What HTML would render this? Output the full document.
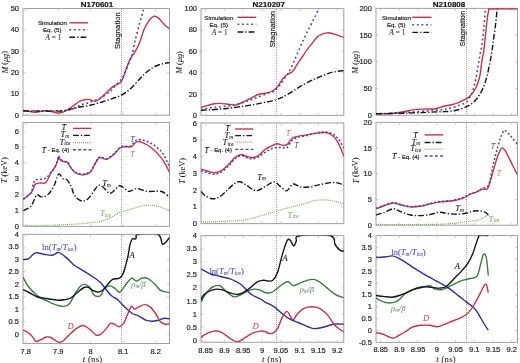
<!DOCTYPE html>
<html><head><meta charset="utf-8"><style>
html,body{margin:0;padding:0;background:#fff;}
svg{display:block;filter:blur(0.3px);}
</style></head><body>
<svg width="520" height="363" viewBox="0 0 520 363">
<rect width="520" height="363" fill="#fff"/>
<clipPath id="c0top"><rect x="23.00" y="8.50" width="146.50" height="106.70"/></clipPath>
<rect x="23.00" y="8.50" width="146.50" height="106.70" fill="none" stroke="#a0a0a0" stroke-width="1.0"/>
<line x1="121.50" y1="9.00" x2="121.50" y2="115.20" stroke="#888888" stroke-width="0.8" stroke-dasharray="1 1"/>
<clipPath id="c0mid"><rect x="23.00" y="122.50" width="146.50" height="103.90"/></clipPath>
<rect x="23.00" y="122.50" width="146.50" height="103.90" fill="none" stroke="#a0a0a0" stroke-width="1.0"/>
<line x1="121.50" y1="123.00" x2="121.50" y2="226.40" stroke="#888888" stroke-width="0.8" stroke-dasharray="1 1"/>
<clipPath id="c0bot"><rect x="23.00" y="234.40" width="146.50" height="109.10"/></clipPath>
<rect x="23.00" y="234.40" width="146.50" height="109.10" fill="none" stroke="#a0a0a0" stroke-width="1.0"/>
<line x1="121.50" y1="235.00" x2="121.50" y2="343.50" stroke="#888888" stroke-width="0.8" stroke-dasharray="1 1"/>
<text x="97.00" y="4.30" font-size="8.00" text-anchor="middle" fill="#111" stroke="#111" stroke-width="0.18" font-family='"Liberation Sans", Arial, sans-serif' font-weight="bold" font-style="normal" dominant-baseline="central">N170601</text>
<clipPath id="c1top"><rect x="201.00" y="8.60" width="142.80" height="106.80"/></clipPath>
<rect x="201.00" y="8.60" width="142.80" height="106.80" fill="none" stroke="#a0a0a0" stroke-width="1.0"/>
<line x1="276.50" y1="9.00" x2="276.50" y2="115.40" stroke="#888888" stroke-width="0.8" stroke-dasharray="1 1"/>
<clipPath id="c1mid"><rect x="201.00" y="123.00" width="142.80" height="100.60"/></clipPath>
<rect x="201.00" y="123.00" width="142.80" height="100.60" fill="none" stroke="#a0a0a0" stroke-width="1.0"/>
<line x1="276.50" y1="123.00" x2="276.50" y2="223.60" stroke="#888888" stroke-width="0.8" stroke-dasharray="1 1"/>
<clipPath id="c1bot"><rect x="201.00" y="235.60" width="142.80" height="106.70"/></clipPath>
<rect x="201.00" y="235.60" width="142.80" height="106.70" fill="none" stroke="#a0a0a0" stroke-width="1.0"/>
<line x1="276.50" y1="236.00" x2="276.50" y2="342.30" stroke="#888888" stroke-width="0.8" stroke-dasharray="1 1"/>
<text x="268.80" y="4.30" font-size="8.00" text-anchor="middle" fill="#111" stroke="#111" stroke-width="0.18" font-family='"Liberation Sans", Arial, sans-serif' font-weight="bold" font-style="normal" dominant-baseline="central">N210207</text>
<clipPath id="c2top"><rect x="376.00" y="8.40" width="141.50" height="106.90"/></clipPath>
<rect x="376.00" y="8.40" width="141.50" height="106.90" fill="none" stroke="#a0a0a0" stroke-width="1.0"/>
<line x1="466.50" y1="9.00" x2="466.50" y2="115.30" stroke="#888888" stroke-width="0.8" stroke-dasharray="1 1"/>
<clipPath id="c2mid"><rect x="376.00" y="122.40" width="141.50" height="102.80"/></clipPath>
<rect x="376.00" y="122.40" width="141.50" height="102.80" fill="none" stroke="#a0a0a0" stroke-width="1.0"/>
<line x1="466.50" y1="123.00" x2="466.50" y2="225.20" stroke="#888888" stroke-width="0.8" stroke-dasharray="1 1"/>
<clipPath id="c2bot"><rect x="376.00" y="235.50" width="141.50" height="106.90"/></clipPath>
<rect x="376.00" y="235.50" width="141.50" height="106.90" fill="none" stroke="#a0a0a0" stroke-width="1.0"/>
<line x1="466.50" y1="236.00" x2="466.50" y2="342.40" stroke="#888888" stroke-width="0.8" stroke-dasharray="1 1"/>
<text x="449.05" y="4.30" font-size="8.00" text-anchor="middle" fill="#111" stroke="#111" stroke-width="0.18" font-family='"Liberation Sans", Arial, sans-serif' font-weight="bold" font-style="normal" dominant-baseline="central">N210808</text>
<line x1="23.00" y1="115.20" x2="25.50" y2="115.20" stroke="#b8b8b8" stroke-width="0.7"/>
<line x1="169.50" y1="115.20" x2="167.00" y2="115.20" stroke="#b8b8b8" stroke-width="0.7"/>
<text x="19.00" y="115.20" font-size="7.50" text-anchor="end" fill="#1c1c1c" stroke="#1c1c1c" stroke-width="0.18" font-family='"Liberation Sans", Arial, sans-serif' font-weight="normal" font-style="normal" dominant-baseline="central">0</text>
<line x1="23.00" y1="93.86" x2="25.50" y2="93.86" stroke="#b8b8b8" stroke-width="0.7"/>
<line x1="169.50" y1="93.86" x2="167.00" y2="93.86" stroke="#b8b8b8" stroke-width="0.7"/>
<text x="19.00" y="93.86" font-size="7.50" text-anchor="end" fill="#1c1c1c" stroke="#1c1c1c" stroke-width="0.18" font-family='"Liberation Sans", Arial, sans-serif' font-weight="normal" font-style="normal" dominant-baseline="central">10</text>
<line x1="23.00" y1="72.52" x2="25.50" y2="72.52" stroke="#b8b8b8" stroke-width="0.7"/>
<line x1="169.50" y1="72.52" x2="167.00" y2="72.52" stroke="#b8b8b8" stroke-width="0.7"/>
<text x="19.00" y="72.52" font-size="7.50" text-anchor="end" fill="#1c1c1c" stroke="#1c1c1c" stroke-width="0.18" font-family='"Liberation Sans", Arial, sans-serif' font-weight="normal" font-style="normal" dominant-baseline="central">20</text>
<line x1="23.00" y1="51.18" x2="25.50" y2="51.18" stroke="#b8b8b8" stroke-width="0.7"/>
<line x1="169.50" y1="51.18" x2="167.00" y2="51.18" stroke="#b8b8b8" stroke-width="0.7"/>
<text x="19.00" y="51.18" font-size="7.50" text-anchor="end" fill="#1c1c1c" stroke="#1c1c1c" stroke-width="0.18" font-family='"Liberation Sans", Arial, sans-serif' font-weight="normal" font-style="normal" dominant-baseline="central">30</text>
<line x1="23.00" y1="29.84" x2="25.50" y2="29.84" stroke="#b8b8b8" stroke-width="0.7"/>
<line x1="169.50" y1="29.84" x2="167.00" y2="29.84" stroke="#b8b8b8" stroke-width="0.7"/>
<text x="19.00" y="29.84" font-size="7.50" text-anchor="end" fill="#1c1c1c" stroke="#1c1c1c" stroke-width="0.18" font-family='"Liberation Sans", Arial, sans-serif' font-weight="normal" font-style="normal" dominant-baseline="central">40</text>
<line x1="23.00" y1="8.50" x2="25.50" y2="8.50" stroke="#b8b8b8" stroke-width="0.7"/>
<line x1="169.50" y1="8.50" x2="167.00" y2="8.50" stroke="#b8b8b8" stroke-width="0.7"/>
<text x="19.00" y="8.50" font-size="7.50" text-anchor="end" fill="#1c1c1c" stroke="#1c1c1c" stroke-width="0.18" font-family='"Liberation Sans", Arial, sans-serif' font-weight="normal" font-style="normal" dominant-baseline="central">50</text>
<line x1="23.00" y1="226.40" x2="25.50" y2="226.40" stroke="#b8b8b8" stroke-width="0.7"/>
<line x1="169.50" y1="226.40" x2="167.00" y2="226.40" stroke="#b8b8b8" stroke-width="0.7"/>
<text x="19.00" y="226.40" font-size="7.50" text-anchor="end" fill="#1c1c1c" stroke="#1c1c1c" stroke-width="0.18" font-family='"Liberation Sans", Arial, sans-serif' font-weight="normal" font-style="normal" dominant-baseline="central">0</text>
<line x1="23.00" y1="210.50" x2="25.50" y2="210.50" stroke="#b8b8b8" stroke-width="0.7"/>
<line x1="169.50" y1="210.50" x2="167.00" y2="210.50" stroke="#b8b8b8" stroke-width="0.7"/>
<text x="19.00" y="210.50" font-size="7.50" text-anchor="end" fill="#1c1c1c" stroke="#1c1c1c" stroke-width="0.18" font-family='"Liberation Sans", Arial, sans-serif' font-weight="normal" font-style="normal" dominant-baseline="central">1</text>
<line x1="23.00" y1="194.60" x2="25.50" y2="194.60" stroke="#b8b8b8" stroke-width="0.7"/>
<line x1="169.50" y1="194.60" x2="167.00" y2="194.60" stroke="#b8b8b8" stroke-width="0.7"/>
<text x="19.00" y="194.60" font-size="7.50" text-anchor="end" fill="#1c1c1c" stroke="#1c1c1c" stroke-width="0.18" font-family='"Liberation Sans", Arial, sans-serif' font-weight="normal" font-style="normal" dominant-baseline="central">2</text>
<line x1="23.00" y1="178.70" x2="25.50" y2="178.70" stroke="#b8b8b8" stroke-width="0.7"/>
<line x1="169.50" y1="178.70" x2="167.00" y2="178.70" stroke="#b8b8b8" stroke-width="0.7"/>
<text x="19.00" y="178.70" font-size="7.50" text-anchor="end" fill="#1c1c1c" stroke="#1c1c1c" stroke-width="0.18" font-family='"Liberation Sans", Arial, sans-serif' font-weight="normal" font-style="normal" dominant-baseline="central">3</text>
<line x1="23.00" y1="162.80" x2="25.50" y2="162.80" stroke="#b8b8b8" stroke-width="0.7"/>
<line x1="169.50" y1="162.80" x2="167.00" y2="162.80" stroke="#b8b8b8" stroke-width="0.7"/>
<text x="19.00" y="162.80" font-size="7.50" text-anchor="end" fill="#1c1c1c" stroke="#1c1c1c" stroke-width="0.18" font-family='"Liberation Sans", Arial, sans-serif' font-weight="normal" font-style="normal" dominant-baseline="central">4</text>
<line x1="23.00" y1="146.90" x2="25.50" y2="146.90" stroke="#b8b8b8" stroke-width="0.7"/>
<line x1="169.50" y1="146.90" x2="167.00" y2="146.90" stroke="#b8b8b8" stroke-width="0.7"/>
<text x="19.00" y="146.90" font-size="7.50" text-anchor="end" fill="#1c1c1c" stroke="#1c1c1c" stroke-width="0.18" font-family='"Liberation Sans", Arial, sans-serif' font-weight="normal" font-style="normal" dominant-baseline="central">5</text>
<line x1="23.00" y1="131.00" x2="25.50" y2="131.00" stroke="#b8b8b8" stroke-width="0.7"/>
<line x1="169.50" y1="131.00" x2="167.00" y2="131.00" stroke="#b8b8b8" stroke-width="0.7"/>
<text x="19.00" y="131.00" font-size="7.50" text-anchor="end" fill="#1c1c1c" stroke="#1c1c1c" stroke-width="0.18" font-family='"Liberation Sans", Arial, sans-serif' font-weight="normal" font-style="normal" dominant-baseline="central">6</text>
<line x1="23.00" y1="334.00" x2="25.50" y2="334.00" stroke="#b8b8b8" stroke-width="0.7"/>
<line x1="169.50" y1="334.00" x2="167.00" y2="334.00" stroke="#b8b8b8" stroke-width="0.7"/>
<text x="19.00" y="334.00" font-size="7.50" text-anchor="end" fill="#1c1c1c" stroke="#1c1c1c" stroke-width="0.18" font-family='"Liberation Sans", Arial, sans-serif' font-weight="normal" font-style="normal" dominant-baseline="central">0</text>
<line x1="23.00" y1="321.55" x2="25.50" y2="321.55" stroke="#b8b8b8" stroke-width="0.7"/>
<line x1="169.50" y1="321.55" x2="167.00" y2="321.55" stroke="#b8b8b8" stroke-width="0.7"/>
<text x="19.00" y="321.55" font-size="7.50" text-anchor="end" fill="#1c1c1c" stroke="#1c1c1c" stroke-width="0.18" font-family='"Liberation Sans", Arial, sans-serif' font-weight="normal" font-style="normal" dominant-baseline="central">0.5</text>
<line x1="23.00" y1="309.10" x2="25.50" y2="309.10" stroke="#b8b8b8" stroke-width="0.7"/>
<line x1="169.50" y1="309.10" x2="167.00" y2="309.10" stroke="#b8b8b8" stroke-width="0.7"/>
<text x="19.00" y="309.10" font-size="7.50" text-anchor="end" fill="#1c1c1c" stroke="#1c1c1c" stroke-width="0.18" font-family='"Liberation Sans", Arial, sans-serif' font-weight="normal" font-style="normal" dominant-baseline="central">1</text>
<line x1="23.00" y1="296.65" x2="25.50" y2="296.65" stroke="#b8b8b8" stroke-width="0.7"/>
<line x1="169.50" y1="296.65" x2="167.00" y2="296.65" stroke="#b8b8b8" stroke-width="0.7"/>
<text x="19.00" y="296.65" font-size="7.50" text-anchor="end" fill="#1c1c1c" stroke="#1c1c1c" stroke-width="0.18" font-family='"Liberation Sans", Arial, sans-serif' font-weight="normal" font-style="normal" dominant-baseline="central">1.5</text>
<line x1="23.00" y1="284.20" x2="25.50" y2="284.20" stroke="#b8b8b8" stroke-width="0.7"/>
<line x1="169.50" y1="284.20" x2="167.00" y2="284.20" stroke="#b8b8b8" stroke-width="0.7"/>
<text x="19.00" y="284.20" font-size="7.50" text-anchor="end" fill="#1c1c1c" stroke="#1c1c1c" stroke-width="0.18" font-family='"Liberation Sans", Arial, sans-serif' font-weight="normal" font-style="normal" dominant-baseline="central">2</text>
<line x1="23.00" y1="271.75" x2="25.50" y2="271.75" stroke="#b8b8b8" stroke-width="0.7"/>
<line x1="169.50" y1="271.75" x2="167.00" y2="271.75" stroke="#b8b8b8" stroke-width="0.7"/>
<text x="19.00" y="271.75" font-size="7.50" text-anchor="end" fill="#1c1c1c" stroke="#1c1c1c" stroke-width="0.18" font-family='"Liberation Sans", Arial, sans-serif' font-weight="normal" font-style="normal" dominant-baseline="central">2.5</text>
<line x1="23.00" y1="259.30" x2="25.50" y2="259.30" stroke="#b8b8b8" stroke-width="0.7"/>
<line x1="169.50" y1="259.30" x2="167.00" y2="259.30" stroke="#b8b8b8" stroke-width="0.7"/>
<text x="19.00" y="259.30" font-size="7.50" text-anchor="end" fill="#1c1c1c" stroke="#1c1c1c" stroke-width="0.18" font-family='"Liberation Sans", Arial, sans-serif' font-weight="normal" font-style="normal" dominant-baseline="central">3</text>
<line x1="23.00" y1="246.85" x2="25.50" y2="246.85" stroke="#b8b8b8" stroke-width="0.7"/>
<line x1="169.50" y1="246.85" x2="167.00" y2="246.85" stroke="#b8b8b8" stroke-width="0.7"/>
<text x="19.00" y="246.85" font-size="7.50" text-anchor="end" fill="#1c1c1c" stroke="#1c1c1c" stroke-width="0.18" font-family='"Liberation Sans", Arial, sans-serif' font-weight="normal" font-style="normal" dominant-baseline="central">3.5</text>
<line x1="23.00" y1="234.40" x2="25.50" y2="234.40" stroke="#b8b8b8" stroke-width="0.7"/>
<line x1="169.50" y1="234.40" x2="167.00" y2="234.40" stroke="#b8b8b8" stroke-width="0.7"/>
<text x="19.00" y="234.40" font-size="7.50" text-anchor="end" fill="#1c1c1c" stroke="#1c1c1c" stroke-width="0.18" font-family='"Liberation Sans", Arial, sans-serif' font-weight="normal" font-style="normal" dominant-baseline="central">4</text>
<line x1="201.00" y1="115.40" x2="203.50" y2="115.40" stroke="#b8b8b8" stroke-width="0.7"/>
<line x1="343.80" y1="115.40" x2="341.30" y2="115.40" stroke="#b8b8b8" stroke-width="0.7"/>
<text x="197.00" y="115.40" font-size="7.50" text-anchor="end" fill="#1c1c1c" stroke="#1c1c1c" stroke-width="0.18" font-family='"Liberation Sans", Arial, sans-serif' font-weight="normal" font-style="normal" dominant-baseline="central">0</text>
<line x1="201.00" y1="94.04" x2="203.50" y2="94.04" stroke="#b8b8b8" stroke-width="0.7"/>
<line x1="343.80" y1="94.04" x2="341.30" y2="94.04" stroke="#b8b8b8" stroke-width="0.7"/>
<text x="197.00" y="94.04" font-size="7.50" text-anchor="end" fill="#1c1c1c" stroke="#1c1c1c" stroke-width="0.18" font-family='"Liberation Sans", Arial, sans-serif' font-weight="normal" font-style="normal" dominant-baseline="central">20</text>
<line x1="201.00" y1="72.68" x2="203.50" y2="72.68" stroke="#b8b8b8" stroke-width="0.7"/>
<line x1="343.80" y1="72.68" x2="341.30" y2="72.68" stroke="#b8b8b8" stroke-width="0.7"/>
<text x="197.00" y="72.68" font-size="7.50" text-anchor="end" fill="#1c1c1c" stroke="#1c1c1c" stroke-width="0.18" font-family='"Liberation Sans", Arial, sans-serif' font-weight="normal" font-style="normal" dominant-baseline="central">40</text>
<line x1="201.00" y1="51.32" x2="203.50" y2="51.32" stroke="#b8b8b8" stroke-width="0.7"/>
<line x1="343.80" y1="51.32" x2="341.30" y2="51.32" stroke="#b8b8b8" stroke-width="0.7"/>
<text x="197.00" y="51.32" font-size="7.50" text-anchor="end" fill="#1c1c1c" stroke="#1c1c1c" stroke-width="0.18" font-family='"Liberation Sans", Arial, sans-serif' font-weight="normal" font-style="normal" dominant-baseline="central">60</text>
<line x1="201.00" y1="29.96" x2="203.50" y2="29.96" stroke="#b8b8b8" stroke-width="0.7"/>
<line x1="343.80" y1="29.96" x2="341.30" y2="29.96" stroke="#b8b8b8" stroke-width="0.7"/>
<text x="197.00" y="29.96" font-size="7.50" text-anchor="end" fill="#1c1c1c" stroke="#1c1c1c" stroke-width="0.18" font-family='"Liberation Sans", Arial, sans-serif' font-weight="normal" font-style="normal" dominant-baseline="central">80</text>
<line x1="201.00" y1="8.60" x2="203.50" y2="8.60" stroke="#b8b8b8" stroke-width="0.7"/>
<line x1="343.80" y1="8.60" x2="341.30" y2="8.60" stroke="#b8b8b8" stroke-width="0.7"/>
<text x="197.00" y="8.60" font-size="7.50" text-anchor="end" fill="#1c1c1c" stroke="#1c1c1c" stroke-width="0.18" font-family='"Liberation Sans", Arial, sans-serif' font-weight="normal" font-style="normal" dominant-baseline="central">100</text>
<line x1="201.00" y1="223.60" x2="203.50" y2="223.60" stroke="#b8b8b8" stroke-width="0.7"/>
<line x1="343.80" y1="223.60" x2="341.30" y2="223.60" stroke="#b8b8b8" stroke-width="0.7"/>
<text x="197.00" y="223.60" font-size="7.50" text-anchor="end" fill="#1c1c1c" stroke="#1c1c1c" stroke-width="0.18" font-family='"Liberation Sans", Arial, sans-serif' font-weight="normal" font-style="normal" dominant-baseline="central">0</text>
<line x1="201.00" y1="206.83" x2="203.50" y2="206.83" stroke="#b8b8b8" stroke-width="0.7"/>
<line x1="343.80" y1="206.83" x2="341.30" y2="206.83" stroke="#b8b8b8" stroke-width="0.7"/>
<text x="197.00" y="206.83" font-size="7.50" text-anchor="end" fill="#1c1c1c" stroke="#1c1c1c" stroke-width="0.18" font-family='"Liberation Sans", Arial, sans-serif' font-weight="normal" font-style="normal" dominant-baseline="central">1</text>
<line x1="201.00" y1="190.07" x2="203.50" y2="190.07" stroke="#b8b8b8" stroke-width="0.7"/>
<line x1="343.80" y1="190.07" x2="341.30" y2="190.07" stroke="#b8b8b8" stroke-width="0.7"/>
<text x="197.00" y="190.07" font-size="7.50" text-anchor="end" fill="#1c1c1c" stroke="#1c1c1c" stroke-width="0.18" font-family='"Liberation Sans", Arial, sans-serif' font-weight="normal" font-style="normal" dominant-baseline="central">2</text>
<line x1="201.00" y1="173.30" x2="203.50" y2="173.30" stroke="#b8b8b8" stroke-width="0.7"/>
<line x1="343.80" y1="173.30" x2="341.30" y2="173.30" stroke="#b8b8b8" stroke-width="0.7"/>
<text x="197.00" y="173.30" font-size="7.50" text-anchor="end" fill="#1c1c1c" stroke="#1c1c1c" stroke-width="0.18" font-family='"Liberation Sans", Arial, sans-serif' font-weight="normal" font-style="normal" dominant-baseline="central">3</text>
<line x1="201.00" y1="156.53" x2="203.50" y2="156.53" stroke="#b8b8b8" stroke-width="0.7"/>
<line x1="343.80" y1="156.53" x2="341.30" y2="156.53" stroke="#b8b8b8" stroke-width="0.7"/>
<text x="197.00" y="156.53" font-size="7.50" text-anchor="end" fill="#1c1c1c" stroke="#1c1c1c" stroke-width="0.18" font-family='"Liberation Sans", Arial, sans-serif' font-weight="normal" font-style="normal" dominant-baseline="central">4</text>
<line x1="201.00" y1="139.77" x2="203.50" y2="139.77" stroke="#b8b8b8" stroke-width="0.7"/>
<line x1="343.80" y1="139.77" x2="341.30" y2="139.77" stroke="#b8b8b8" stroke-width="0.7"/>
<text x="197.00" y="139.77" font-size="7.50" text-anchor="end" fill="#1c1c1c" stroke="#1c1c1c" stroke-width="0.18" font-family='"Liberation Sans", Arial, sans-serif' font-weight="normal" font-style="normal" dominant-baseline="central">5</text>
<line x1="201.00" y1="123.00" x2="203.50" y2="123.00" stroke="#b8b8b8" stroke-width="0.7"/>
<line x1="343.80" y1="123.00" x2="341.30" y2="123.00" stroke="#b8b8b8" stroke-width="0.7"/>
<text x="197.00" y="123.00" font-size="7.50" text-anchor="end" fill="#1c1c1c" stroke="#1c1c1c" stroke-width="0.18" font-family='"Liberation Sans", Arial, sans-serif' font-weight="normal" font-style="normal" dominant-baseline="central">6</text>
<line x1="201.00" y1="340.30" x2="203.50" y2="340.30" stroke="#b8b8b8" stroke-width="0.7"/>
<line x1="343.80" y1="340.30" x2="341.30" y2="340.30" stroke="#b8b8b8" stroke-width="0.7"/>
<text x="197.00" y="340.30" font-size="7.50" text-anchor="end" fill="#1c1c1c" stroke="#1c1c1c" stroke-width="0.18" font-family='"Liberation Sans", Arial, sans-serif' font-weight="normal" font-style="normal" dominant-baseline="central">0</text>
<line x1="201.00" y1="327.20" x2="203.50" y2="327.20" stroke="#b8b8b8" stroke-width="0.7"/>
<line x1="343.80" y1="327.20" x2="341.30" y2="327.20" stroke="#b8b8b8" stroke-width="0.7"/>
<text x="197.00" y="327.20" font-size="7.50" text-anchor="end" fill="#1c1c1c" stroke="#1c1c1c" stroke-width="0.18" font-family='"Liberation Sans", Arial, sans-serif' font-weight="normal" font-style="normal" dominant-baseline="central">0.5</text>
<line x1="201.00" y1="314.10" x2="203.50" y2="314.10" stroke="#b8b8b8" stroke-width="0.7"/>
<line x1="343.80" y1="314.10" x2="341.30" y2="314.10" stroke="#b8b8b8" stroke-width="0.7"/>
<text x="197.00" y="314.10" font-size="7.50" text-anchor="end" fill="#1c1c1c" stroke="#1c1c1c" stroke-width="0.18" font-family='"Liberation Sans", Arial, sans-serif' font-weight="normal" font-style="normal" dominant-baseline="central">1</text>
<line x1="201.00" y1="301.00" x2="203.50" y2="301.00" stroke="#b8b8b8" stroke-width="0.7"/>
<line x1="343.80" y1="301.00" x2="341.30" y2="301.00" stroke="#b8b8b8" stroke-width="0.7"/>
<text x="197.00" y="301.00" font-size="7.50" text-anchor="end" fill="#1c1c1c" stroke="#1c1c1c" stroke-width="0.18" font-family='"Liberation Sans", Arial, sans-serif' font-weight="normal" font-style="normal" dominant-baseline="central">1.5</text>
<line x1="201.00" y1="287.90" x2="203.50" y2="287.90" stroke="#b8b8b8" stroke-width="0.7"/>
<line x1="343.80" y1="287.90" x2="341.30" y2="287.90" stroke="#b8b8b8" stroke-width="0.7"/>
<text x="197.00" y="287.90" font-size="7.50" text-anchor="end" fill="#1c1c1c" stroke="#1c1c1c" stroke-width="0.18" font-family='"Liberation Sans", Arial, sans-serif' font-weight="normal" font-style="normal" dominant-baseline="central">2</text>
<line x1="201.00" y1="274.80" x2="203.50" y2="274.80" stroke="#b8b8b8" stroke-width="0.7"/>
<line x1="343.80" y1="274.80" x2="341.30" y2="274.80" stroke="#b8b8b8" stroke-width="0.7"/>
<text x="197.00" y="274.80" font-size="7.50" text-anchor="end" fill="#1c1c1c" stroke="#1c1c1c" stroke-width="0.18" font-family='"Liberation Sans", Arial, sans-serif' font-weight="normal" font-style="normal" dominant-baseline="central">2.5</text>
<line x1="201.00" y1="261.70" x2="203.50" y2="261.70" stroke="#b8b8b8" stroke-width="0.7"/>
<line x1="343.80" y1="261.70" x2="341.30" y2="261.70" stroke="#b8b8b8" stroke-width="0.7"/>
<text x="197.00" y="261.70" font-size="7.50" text-anchor="end" fill="#1c1c1c" stroke="#1c1c1c" stroke-width="0.18" font-family='"Liberation Sans", Arial, sans-serif' font-weight="normal" font-style="normal" dominant-baseline="central">3</text>
<line x1="201.00" y1="248.60" x2="203.50" y2="248.60" stroke="#b8b8b8" stroke-width="0.7"/>
<line x1="343.80" y1="248.60" x2="341.30" y2="248.60" stroke="#b8b8b8" stroke-width="0.7"/>
<text x="197.00" y="248.60" font-size="7.50" text-anchor="end" fill="#1c1c1c" stroke="#1c1c1c" stroke-width="0.18" font-family='"Liberation Sans", Arial, sans-serif' font-weight="normal" font-style="normal" dominant-baseline="central">3.5</text>
<line x1="201.00" y1="235.50" x2="203.50" y2="235.50" stroke="#b8b8b8" stroke-width="0.7"/>
<line x1="343.80" y1="235.50" x2="341.30" y2="235.50" stroke="#b8b8b8" stroke-width="0.7"/>
<text x="197.00" y="235.50" font-size="7.50" text-anchor="end" fill="#1c1c1c" stroke="#1c1c1c" stroke-width="0.18" font-family='"Liberation Sans", Arial, sans-serif' font-weight="normal" font-style="normal" dominant-baseline="central">4</text>
<line x1="376.00" y1="115.30" x2="378.50" y2="115.30" stroke="#b8b8b8" stroke-width="0.7"/>
<line x1="517.50" y1="115.30" x2="515.00" y2="115.30" stroke="#b8b8b8" stroke-width="0.7"/>
<text x="371.90" y="115.30" font-size="7.50" text-anchor="end" fill="#1c1c1c" stroke="#1c1c1c" stroke-width="0.18" font-family='"Liberation Sans", Arial, sans-serif' font-weight="normal" font-style="normal" dominant-baseline="central">0</text>
<line x1="376.00" y1="88.57" x2="378.50" y2="88.57" stroke="#b8b8b8" stroke-width="0.7"/>
<line x1="517.50" y1="88.57" x2="515.00" y2="88.57" stroke="#b8b8b8" stroke-width="0.7"/>
<text x="371.90" y="88.57" font-size="7.50" text-anchor="end" fill="#1c1c1c" stroke="#1c1c1c" stroke-width="0.18" font-family='"Liberation Sans", Arial, sans-serif' font-weight="normal" font-style="normal" dominant-baseline="central">50</text>
<line x1="376.00" y1="61.85" x2="378.50" y2="61.85" stroke="#b8b8b8" stroke-width="0.7"/>
<line x1="517.50" y1="61.85" x2="515.00" y2="61.85" stroke="#b8b8b8" stroke-width="0.7"/>
<text x="371.90" y="61.85" font-size="7.50" text-anchor="end" fill="#1c1c1c" stroke="#1c1c1c" stroke-width="0.18" font-family='"Liberation Sans", Arial, sans-serif' font-weight="normal" font-style="normal" dominant-baseline="central">100</text>
<line x1="376.00" y1="35.12" x2="378.50" y2="35.12" stroke="#b8b8b8" stroke-width="0.7"/>
<line x1="517.50" y1="35.12" x2="515.00" y2="35.12" stroke="#b8b8b8" stroke-width="0.7"/>
<text x="371.90" y="35.12" font-size="7.50" text-anchor="end" fill="#1c1c1c" stroke="#1c1c1c" stroke-width="0.18" font-family='"Liberation Sans", Arial, sans-serif' font-weight="normal" font-style="normal" dominant-baseline="central">150</text>
<line x1="376.00" y1="8.40" x2="378.50" y2="8.40" stroke="#b8b8b8" stroke-width="0.7"/>
<line x1="517.50" y1="8.40" x2="515.00" y2="8.40" stroke="#b8b8b8" stroke-width="0.7"/>
<text x="371.90" y="8.40" font-size="7.50" text-anchor="end" fill="#1c1c1c" stroke="#1c1c1c" stroke-width="0.18" font-family='"Liberation Sans", Arial, sans-serif' font-weight="normal" font-style="normal" dominant-baseline="central">200</text>
<line x1="376.00" y1="225.20" x2="378.50" y2="225.20" stroke="#b8b8b8" stroke-width="0.7"/>
<line x1="517.50" y1="225.20" x2="515.00" y2="225.20" stroke="#b8b8b8" stroke-width="0.7"/>
<text x="371.90" y="225.20" font-size="7.50" text-anchor="end" fill="#1c1c1c" stroke="#1c1c1c" stroke-width="0.18" font-family='"Liberation Sans", Arial, sans-serif' font-weight="normal" font-style="normal" dominant-baseline="central">0</text>
<line x1="376.00" y1="199.50" x2="378.50" y2="199.50" stroke="#b8b8b8" stroke-width="0.7"/>
<line x1="517.50" y1="199.50" x2="515.00" y2="199.50" stroke="#b8b8b8" stroke-width="0.7"/>
<text x="371.90" y="199.50" font-size="7.50" text-anchor="end" fill="#1c1c1c" stroke="#1c1c1c" stroke-width="0.18" font-family='"Liberation Sans", Arial, sans-serif' font-weight="normal" font-style="normal" dominant-baseline="central">5</text>
<line x1="376.00" y1="173.80" x2="378.50" y2="173.80" stroke="#b8b8b8" stroke-width="0.7"/>
<line x1="517.50" y1="173.80" x2="515.00" y2="173.80" stroke="#b8b8b8" stroke-width="0.7"/>
<text x="371.90" y="173.80" font-size="7.50" text-anchor="end" fill="#1c1c1c" stroke="#1c1c1c" stroke-width="0.18" font-family='"Liberation Sans", Arial, sans-serif' font-weight="normal" font-style="normal" dominant-baseline="central">10</text>
<line x1="376.00" y1="148.10" x2="378.50" y2="148.10" stroke="#b8b8b8" stroke-width="0.7"/>
<line x1="517.50" y1="148.10" x2="515.00" y2="148.10" stroke="#b8b8b8" stroke-width="0.7"/>
<text x="371.90" y="148.10" font-size="7.50" text-anchor="end" fill="#1c1c1c" stroke="#1c1c1c" stroke-width="0.18" font-family='"Liberation Sans", Arial, sans-serif' font-weight="normal" font-style="normal" dominant-baseline="central">15</text>
<line x1="376.00" y1="122.40" x2="378.50" y2="122.40" stroke="#b8b8b8" stroke-width="0.7"/>
<line x1="517.50" y1="122.40" x2="515.00" y2="122.40" stroke="#b8b8b8" stroke-width="0.7"/>
<text x="371.90" y="122.40" font-size="7.50" text-anchor="end" fill="#1c1c1c" stroke="#1c1c1c" stroke-width="0.18" font-family='"Liberation Sans", Arial, sans-serif' font-weight="normal" font-style="normal" dominant-baseline="central">20</text>
<line x1="376.00" y1="342.40" x2="378.50" y2="342.40" stroke="#b8b8b8" stroke-width="0.7"/>
<line x1="517.50" y1="342.40" x2="515.00" y2="342.40" stroke="#b8b8b8" stroke-width="0.7"/>
<text x="371.90" y="342.40" font-size="7.50" text-anchor="end" fill="#1c1c1c" stroke="#1c1c1c" stroke-width="0.18" font-family='"Liberation Sans", Arial, sans-serif' font-weight="normal" font-style="normal" dominant-baseline="central">-0.5</text>
<line x1="376.00" y1="330.52" x2="378.50" y2="330.52" stroke="#b8b8b8" stroke-width="0.7"/>
<line x1="517.50" y1="330.52" x2="515.00" y2="330.52" stroke="#b8b8b8" stroke-width="0.7"/>
<text x="371.90" y="330.52" font-size="7.50" text-anchor="end" fill="#1c1c1c" stroke="#1c1c1c" stroke-width="0.18" font-family='"Liberation Sans", Arial, sans-serif' font-weight="normal" font-style="normal" dominant-baseline="central">0</text>
<line x1="376.00" y1="318.64" x2="378.50" y2="318.64" stroke="#b8b8b8" stroke-width="0.7"/>
<line x1="517.50" y1="318.64" x2="515.00" y2="318.64" stroke="#b8b8b8" stroke-width="0.7"/>
<text x="371.90" y="318.64" font-size="7.50" text-anchor="end" fill="#1c1c1c" stroke="#1c1c1c" stroke-width="0.18" font-family='"Liberation Sans", Arial, sans-serif' font-weight="normal" font-style="normal" dominant-baseline="central">0.5</text>
<line x1="376.00" y1="306.77" x2="378.50" y2="306.77" stroke="#b8b8b8" stroke-width="0.7"/>
<line x1="517.50" y1="306.77" x2="515.00" y2="306.77" stroke="#b8b8b8" stroke-width="0.7"/>
<text x="371.90" y="306.77" font-size="7.50" text-anchor="end" fill="#1c1c1c" stroke="#1c1c1c" stroke-width="0.18" font-family='"Liberation Sans", Arial, sans-serif' font-weight="normal" font-style="normal" dominant-baseline="central">1</text>
<line x1="376.00" y1="294.89" x2="378.50" y2="294.89" stroke="#b8b8b8" stroke-width="0.7"/>
<line x1="517.50" y1="294.89" x2="515.00" y2="294.89" stroke="#b8b8b8" stroke-width="0.7"/>
<text x="371.90" y="294.89" font-size="7.50" text-anchor="end" fill="#1c1c1c" stroke="#1c1c1c" stroke-width="0.18" font-family='"Liberation Sans", Arial, sans-serif' font-weight="normal" font-style="normal" dominant-baseline="central">1.5</text>
<line x1="376.00" y1="283.01" x2="378.50" y2="283.01" stroke="#b8b8b8" stroke-width="0.7"/>
<line x1="517.50" y1="283.01" x2="515.00" y2="283.01" stroke="#b8b8b8" stroke-width="0.7"/>
<text x="371.90" y="283.01" font-size="7.50" text-anchor="end" fill="#1c1c1c" stroke="#1c1c1c" stroke-width="0.18" font-family='"Liberation Sans", Arial, sans-serif' font-weight="normal" font-style="normal" dominant-baseline="central">2</text>
<line x1="376.00" y1="271.13" x2="378.50" y2="271.13" stroke="#b8b8b8" stroke-width="0.7"/>
<line x1="517.50" y1="271.13" x2="515.00" y2="271.13" stroke="#b8b8b8" stroke-width="0.7"/>
<text x="371.90" y="271.13" font-size="7.50" text-anchor="end" fill="#1c1c1c" stroke="#1c1c1c" stroke-width="0.18" font-family='"Liberation Sans", Arial, sans-serif' font-weight="normal" font-style="normal" dominant-baseline="central">2.5</text>
<line x1="376.00" y1="259.26" x2="378.50" y2="259.26" stroke="#b8b8b8" stroke-width="0.7"/>
<line x1="517.50" y1="259.26" x2="515.00" y2="259.26" stroke="#b8b8b8" stroke-width="0.7"/>
<text x="371.90" y="259.26" font-size="7.50" text-anchor="end" fill="#1c1c1c" stroke="#1c1c1c" stroke-width="0.18" font-family='"Liberation Sans", Arial, sans-serif' font-weight="normal" font-style="normal" dominant-baseline="central">3</text>
<line x1="376.00" y1="247.38" x2="378.50" y2="247.38" stroke="#b8b8b8" stroke-width="0.7"/>
<line x1="517.50" y1="247.38" x2="515.00" y2="247.38" stroke="#b8b8b8" stroke-width="0.7"/>
<text x="371.90" y="247.38" font-size="7.50" text-anchor="end" fill="#1c1c1c" stroke="#1c1c1c" stroke-width="0.18" font-family='"Liberation Sans", Arial, sans-serif' font-weight="normal" font-style="normal" dominant-baseline="central">3.5</text>
<line x1="376.00" y1="235.50" x2="378.50" y2="235.50" stroke="#b8b8b8" stroke-width="0.7"/>
<line x1="517.50" y1="235.50" x2="515.00" y2="235.50" stroke="#b8b8b8" stroke-width="0.7"/>
<text x="371.90" y="235.50" font-size="7.50" text-anchor="end" fill="#1c1c1c" stroke="#1c1c1c" stroke-width="0.18" font-family='"Liberation Sans", Arial, sans-serif' font-weight="normal" font-style="normal" dominant-baseline="central">4</text>
<line x1="25.80" y1="115.20" x2="25.80" y2="112.70" stroke="#b8b8b8" stroke-width="0.7"/>
<line x1="25.80" y1="8.50" x2="25.80" y2="11.00" stroke="#b8b8b8" stroke-width="0.7"/>
<line x1="58.25" y1="115.20" x2="58.25" y2="112.70" stroke="#b8b8b8" stroke-width="0.7"/>
<line x1="58.25" y1="8.50" x2="58.25" y2="11.00" stroke="#b8b8b8" stroke-width="0.7"/>
<line x1="90.70" y1="115.20" x2="90.70" y2="112.70" stroke="#b8b8b8" stroke-width="0.7"/>
<line x1="90.70" y1="8.50" x2="90.70" y2="11.00" stroke="#b8b8b8" stroke-width="0.7"/>
<line x1="123.15" y1="115.20" x2="123.15" y2="112.70" stroke="#b8b8b8" stroke-width="0.7"/>
<line x1="123.15" y1="8.50" x2="123.15" y2="11.00" stroke="#b8b8b8" stroke-width="0.7"/>
<line x1="155.60" y1="115.20" x2="155.60" y2="112.70" stroke="#b8b8b8" stroke-width="0.7"/>
<line x1="155.60" y1="8.50" x2="155.60" y2="11.00" stroke="#b8b8b8" stroke-width="0.7"/>
<line x1="25.80" y1="226.40" x2="25.80" y2="223.90" stroke="#b8b8b8" stroke-width="0.7"/>
<line x1="25.80" y1="122.50" x2="25.80" y2="125.00" stroke="#b8b8b8" stroke-width="0.7"/>
<line x1="58.25" y1="226.40" x2="58.25" y2="223.90" stroke="#b8b8b8" stroke-width="0.7"/>
<line x1="58.25" y1="122.50" x2="58.25" y2="125.00" stroke="#b8b8b8" stroke-width="0.7"/>
<line x1="90.70" y1="226.40" x2="90.70" y2="223.90" stroke="#b8b8b8" stroke-width="0.7"/>
<line x1="90.70" y1="122.50" x2="90.70" y2="125.00" stroke="#b8b8b8" stroke-width="0.7"/>
<line x1="123.15" y1="226.40" x2="123.15" y2="223.90" stroke="#b8b8b8" stroke-width="0.7"/>
<line x1="123.15" y1="122.50" x2="123.15" y2="125.00" stroke="#b8b8b8" stroke-width="0.7"/>
<line x1="155.60" y1="226.40" x2="155.60" y2="223.90" stroke="#b8b8b8" stroke-width="0.7"/>
<line x1="155.60" y1="122.50" x2="155.60" y2="125.00" stroke="#b8b8b8" stroke-width="0.7"/>
<line x1="25.80" y1="343.50" x2="25.80" y2="341.00" stroke="#b8b8b8" stroke-width="0.7"/>
<line x1="25.80" y1="234.40" x2="25.80" y2="236.90" stroke="#b8b8b8" stroke-width="0.7"/>
<text x="25.80" y="351.00" font-size="7.50" text-anchor="middle" fill="#1c1c1c" stroke="#1c1c1c" stroke-width="0.18" font-family='"Liberation Sans", Arial, sans-serif' font-weight="normal" font-style="normal" dominant-baseline="central">7.8</text>
<line x1="58.25" y1="343.50" x2="58.25" y2="341.00" stroke="#b8b8b8" stroke-width="0.7"/>
<line x1="58.25" y1="234.40" x2="58.25" y2="236.90" stroke="#b8b8b8" stroke-width="0.7"/>
<text x="58.25" y="351.00" font-size="7.50" text-anchor="middle" fill="#1c1c1c" stroke="#1c1c1c" stroke-width="0.18" font-family='"Liberation Sans", Arial, sans-serif' font-weight="normal" font-style="normal" dominant-baseline="central">7.9</text>
<line x1="90.70" y1="343.50" x2="90.70" y2="341.00" stroke="#b8b8b8" stroke-width="0.7"/>
<line x1="90.70" y1="234.40" x2="90.70" y2="236.90" stroke="#b8b8b8" stroke-width="0.7"/>
<text x="90.70" y="351.00" font-size="7.50" text-anchor="middle" fill="#1c1c1c" stroke="#1c1c1c" stroke-width="0.18" font-family='"Liberation Sans", Arial, sans-serif' font-weight="normal" font-style="normal" dominant-baseline="central">8</text>
<line x1="123.15" y1="343.50" x2="123.15" y2="341.00" stroke="#b8b8b8" stroke-width="0.7"/>
<line x1="123.15" y1="234.40" x2="123.15" y2="236.90" stroke="#b8b8b8" stroke-width="0.7"/>
<text x="123.15" y="351.00" font-size="7.50" text-anchor="middle" fill="#1c1c1c" stroke="#1c1c1c" stroke-width="0.18" font-family='"Liberation Sans", Arial, sans-serif' font-weight="normal" font-style="normal" dominant-baseline="central">8.1</text>
<line x1="155.60" y1="343.50" x2="155.60" y2="341.00" stroke="#b8b8b8" stroke-width="0.7"/>
<line x1="155.60" y1="234.40" x2="155.60" y2="236.90" stroke="#b8b8b8" stroke-width="0.7"/>
<text x="155.60" y="351.00" font-size="7.50" text-anchor="middle" fill="#1c1c1c" stroke="#1c1c1c" stroke-width="0.18" font-family='"Liberation Sans", Arial, sans-serif' font-weight="normal" font-style="normal" dominant-baseline="central">8.2</text>
<line x1="205.60" y1="115.40" x2="205.60" y2="112.90" stroke="#b8b8b8" stroke-width="0.7"/>
<line x1="205.60" y1="8.60" x2="205.60" y2="11.10" stroke="#b8b8b8" stroke-width="0.7"/>
<line x1="224.40" y1="115.40" x2="224.40" y2="112.90" stroke="#b8b8b8" stroke-width="0.7"/>
<line x1="224.40" y1="8.60" x2="224.40" y2="11.10" stroke="#b8b8b8" stroke-width="0.7"/>
<line x1="243.20" y1="115.40" x2="243.20" y2="112.90" stroke="#b8b8b8" stroke-width="0.7"/>
<line x1="243.20" y1="8.60" x2="243.20" y2="11.10" stroke="#b8b8b8" stroke-width="0.7"/>
<line x1="262.00" y1="115.40" x2="262.00" y2="112.90" stroke="#b8b8b8" stroke-width="0.7"/>
<line x1="262.00" y1="8.60" x2="262.00" y2="11.10" stroke="#b8b8b8" stroke-width="0.7"/>
<line x1="280.80" y1="115.40" x2="280.80" y2="112.90" stroke="#b8b8b8" stroke-width="0.7"/>
<line x1="280.80" y1="8.60" x2="280.80" y2="11.10" stroke="#b8b8b8" stroke-width="0.7"/>
<line x1="299.60" y1="115.40" x2="299.60" y2="112.90" stroke="#b8b8b8" stroke-width="0.7"/>
<line x1="299.60" y1="8.60" x2="299.60" y2="11.10" stroke="#b8b8b8" stroke-width="0.7"/>
<line x1="318.40" y1="115.40" x2="318.40" y2="112.90" stroke="#b8b8b8" stroke-width="0.7"/>
<line x1="318.40" y1="8.60" x2="318.40" y2="11.10" stroke="#b8b8b8" stroke-width="0.7"/>
<line x1="337.20" y1="115.40" x2="337.20" y2="112.90" stroke="#b8b8b8" stroke-width="0.7"/>
<line x1="337.20" y1="8.60" x2="337.20" y2="11.10" stroke="#b8b8b8" stroke-width="0.7"/>
<line x1="205.60" y1="223.60" x2="205.60" y2="221.10" stroke="#b8b8b8" stroke-width="0.7"/>
<line x1="205.60" y1="123.00" x2="205.60" y2="125.50" stroke="#b8b8b8" stroke-width="0.7"/>
<line x1="224.40" y1="223.60" x2="224.40" y2="221.10" stroke="#b8b8b8" stroke-width="0.7"/>
<line x1="224.40" y1="123.00" x2="224.40" y2="125.50" stroke="#b8b8b8" stroke-width="0.7"/>
<line x1="243.20" y1="223.60" x2="243.20" y2="221.10" stroke="#b8b8b8" stroke-width="0.7"/>
<line x1="243.20" y1="123.00" x2="243.20" y2="125.50" stroke="#b8b8b8" stroke-width="0.7"/>
<line x1="262.00" y1="223.60" x2="262.00" y2="221.10" stroke="#b8b8b8" stroke-width="0.7"/>
<line x1="262.00" y1="123.00" x2="262.00" y2="125.50" stroke="#b8b8b8" stroke-width="0.7"/>
<line x1="280.80" y1="223.60" x2="280.80" y2="221.10" stroke="#b8b8b8" stroke-width="0.7"/>
<line x1="280.80" y1="123.00" x2="280.80" y2="125.50" stroke="#b8b8b8" stroke-width="0.7"/>
<line x1="299.60" y1="223.60" x2="299.60" y2="221.10" stroke="#b8b8b8" stroke-width="0.7"/>
<line x1="299.60" y1="123.00" x2="299.60" y2="125.50" stroke="#b8b8b8" stroke-width="0.7"/>
<line x1="318.40" y1="223.60" x2="318.40" y2="221.10" stroke="#b8b8b8" stroke-width="0.7"/>
<line x1="318.40" y1="123.00" x2="318.40" y2="125.50" stroke="#b8b8b8" stroke-width="0.7"/>
<line x1="337.20" y1="223.60" x2="337.20" y2="221.10" stroke="#b8b8b8" stroke-width="0.7"/>
<line x1="337.20" y1="123.00" x2="337.20" y2="125.50" stroke="#b8b8b8" stroke-width="0.7"/>
<line x1="205.60" y1="342.30" x2="205.60" y2="339.80" stroke="#b8b8b8" stroke-width="0.7"/>
<line x1="205.60" y1="235.60" x2="205.60" y2="238.10" stroke="#b8b8b8" stroke-width="0.7"/>
<text x="205.60" y="350.00" font-size="7.50" text-anchor="middle" fill="#1c1c1c" stroke="#1c1c1c" stroke-width="0.18" font-family='"Liberation Sans", Arial, sans-serif' font-weight="normal" font-style="normal" dominant-baseline="central">8.85</text>
<line x1="224.40" y1="342.30" x2="224.40" y2="339.80" stroke="#b8b8b8" stroke-width="0.7"/>
<line x1="224.40" y1="235.60" x2="224.40" y2="238.10" stroke="#b8b8b8" stroke-width="0.7"/>
<text x="224.40" y="350.00" font-size="7.50" text-anchor="middle" fill="#1c1c1c" stroke="#1c1c1c" stroke-width="0.18" font-family='"Liberation Sans", Arial, sans-serif' font-weight="normal" font-style="normal" dominant-baseline="central">8.9</text>
<line x1="243.20" y1="342.30" x2="243.20" y2="339.80" stroke="#b8b8b8" stroke-width="0.7"/>
<line x1="243.20" y1="235.60" x2="243.20" y2="238.10" stroke="#b8b8b8" stroke-width="0.7"/>
<text x="243.20" y="350.00" font-size="7.50" text-anchor="middle" fill="#1c1c1c" stroke="#1c1c1c" stroke-width="0.18" font-family='"Liberation Sans", Arial, sans-serif' font-weight="normal" font-style="normal" dominant-baseline="central">8.95</text>
<line x1="262.00" y1="342.30" x2="262.00" y2="339.80" stroke="#b8b8b8" stroke-width="0.7"/>
<line x1="262.00" y1="235.60" x2="262.00" y2="238.10" stroke="#b8b8b8" stroke-width="0.7"/>
<text x="262.00" y="350.00" font-size="7.50" text-anchor="middle" fill="#1c1c1c" stroke="#1c1c1c" stroke-width="0.18" font-family='"Liberation Sans", Arial, sans-serif' font-weight="normal" font-style="normal" dominant-baseline="central">9</text>
<line x1="280.80" y1="342.30" x2="280.80" y2="339.80" stroke="#b8b8b8" stroke-width="0.7"/>
<line x1="280.80" y1="235.60" x2="280.80" y2="238.10" stroke="#b8b8b8" stroke-width="0.7"/>
<text x="280.80" y="350.00" font-size="7.50" text-anchor="middle" fill="#1c1c1c" stroke="#1c1c1c" stroke-width="0.18" font-family='"Liberation Sans", Arial, sans-serif' font-weight="normal" font-style="normal" dominant-baseline="central">9.05</text>
<line x1="299.60" y1="342.30" x2="299.60" y2="339.80" stroke="#b8b8b8" stroke-width="0.7"/>
<line x1="299.60" y1="235.60" x2="299.60" y2="238.10" stroke="#b8b8b8" stroke-width="0.7"/>
<text x="299.60" y="350.00" font-size="7.50" text-anchor="middle" fill="#1c1c1c" stroke="#1c1c1c" stroke-width="0.18" font-family='"Liberation Sans", Arial, sans-serif' font-weight="normal" font-style="normal" dominant-baseline="central">9.1</text>
<line x1="318.40" y1="342.30" x2="318.40" y2="339.80" stroke="#b8b8b8" stroke-width="0.7"/>
<line x1="318.40" y1="235.60" x2="318.40" y2="238.10" stroke="#b8b8b8" stroke-width="0.7"/>
<text x="318.40" y="350.00" font-size="7.50" text-anchor="middle" fill="#1c1c1c" stroke="#1c1c1c" stroke-width="0.18" font-family='"Liberation Sans", Arial, sans-serif' font-weight="normal" font-style="normal" dominant-baseline="central">9.15</text>
<line x1="337.20" y1="342.30" x2="337.20" y2="339.80" stroke="#b8b8b8" stroke-width="0.7"/>
<line x1="337.20" y1="235.60" x2="337.20" y2="238.10" stroke="#b8b8b8" stroke-width="0.7"/>
<text x="337.20" y="350.00" font-size="7.50" text-anchor="middle" fill="#1c1c1c" stroke="#1c1c1c" stroke-width="0.18" font-family='"Liberation Sans", Arial, sans-serif' font-weight="normal" font-style="normal" dominant-baseline="central">9.2</text>
<line x1="380.70" y1="115.30" x2="380.70" y2="112.80" stroke="#b8b8b8" stroke-width="0.7"/>
<line x1="380.70" y1="8.40" x2="380.70" y2="10.90" stroke="#b8b8b8" stroke-width="0.7"/>
<line x1="399.41" y1="115.30" x2="399.41" y2="112.80" stroke="#b8b8b8" stroke-width="0.7"/>
<line x1="399.41" y1="8.40" x2="399.41" y2="10.90" stroke="#b8b8b8" stroke-width="0.7"/>
<line x1="418.13" y1="115.30" x2="418.13" y2="112.80" stroke="#b8b8b8" stroke-width="0.7"/>
<line x1="418.13" y1="8.40" x2="418.13" y2="10.90" stroke="#b8b8b8" stroke-width="0.7"/>
<line x1="436.84" y1="115.30" x2="436.84" y2="112.80" stroke="#b8b8b8" stroke-width="0.7"/>
<line x1="436.84" y1="8.40" x2="436.84" y2="10.90" stroke="#b8b8b8" stroke-width="0.7"/>
<line x1="455.56" y1="115.30" x2="455.56" y2="112.80" stroke="#b8b8b8" stroke-width="0.7"/>
<line x1="455.56" y1="8.40" x2="455.56" y2="10.90" stroke="#b8b8b8" stroke-width="0.7"/>
<line x1="474.27" y1="115.30" x2="474.27" y2="112.80" stroke="#b8b8b8" stroke-width="0.7"/>
<line x1="474.27" y1="8.40" x2="474.27" y2="10.90" stroke="#b8b8b8" stroke-width="0.7"/>
<line x1="492.99" y1="115.30" x2="492.99" y2="112.80" stroke="#b8b8b8" stroke-width="0.7"/>
<line x1="492.99" y1="8.40" x2="492.99" y2="10.90" stroke="#b8b8b8" stroke-width="0.7"/>
<line x1="511.70" y1="115.30" x2="511.70" y2="112.80" stroke="#b8b8b8" stroke-width="0.7"/>
<line x1="511.70" y1="8.40" x2="511.70" y2="10.90" stroke="#b8b8b8" stroke-width="0.7"/>
<line x1="380.70" y1="225.20" x2="380.70" y2="222.70" stroke="#b8b8b8" stroke-width="0.7"/>
<line x1="380.70" y1="122.40" x2="380.70" y2="124.90" stroke="#b8b8b8" stroke-width="0.7"/>
<line x1="399.41" y1="225.20" x2="399.41" y2="222.70" stroke="#b8b8b8" stroke-width="0.7"/>
<line x1="399.41" y1="122.40" x2="399.41" y2="124.90" stroke="#b8b8b8" stroke-width="0.7"/>
<line x1="418.13" y1="225.20" x2="418.13" y2="222.70" stroke="#b8b8b8" stroke-width="0.7"/>
<line x1="418.13" y1="122.40" x2="418.13" y2="124.90" stroke="#b8b8b8" stroke-width="0.7"/>
<line x1="436.84" y1="225.20" x2="436.84" y2="222.70" stroke="#b8b8b8" stroke-width="0.7"/>
<line x1="436.84" y1="122.40" x2="436.84" y2="124.90" stroke="#b8b8b8" stroke-width="0.7"/>
<line x1="455.56" y1="225.20" x2="455.56" y2="222.70" stroke="#b8b8b8" stroke-width="0.7"/>
<line x1="455.56" y1="122.40" x2="455.56" y2="124.90" stroke="#b8b8b8" stroke-width="0.7"/>
<line x1="474.27" y1="225.20" x2="474.27" y2="222.70" stroke="#b8b8b8" stroke-width="0.7"/>
<line x1="474.27" y1="122.40" x2="474.27" y2="124.90" stroke="#b8b8b8" stroke-width="0.7"/>
<line x1="492.99" y1="225.20" x2="492.99" y2="222.70" stroke="#b8b8b8" stroke-width="0.7"/>
<line x1="492.99" y1="122.40" x2="492.99" y2="124.90" stroke="#b8b8b8" stroke-width="0.7"/>
<line x1="511.70" y1="225.20" x2="511.70" y2="222.70" stroke="#b8b8b8" stroke-width="0.7"/>
<line x1="511.70" y1="122.40" x2="511.70" y2="124.90" stroke="#b8b8b8" stroke-width="0.7"/>
<line x1="380.70" y1="342.40" x2="380.70" y2="339.90" stroke="#b8b8b8" stroke-width="0.7"/>
<line x1="380.70" y1="235.50" x2="380.70" y2="238.00" stroke="#b8b8b8" stroke-width="0.7"/>
<text x="380.70" y="349.60" font-size="7.50" text-anchor="middle" fill="#1c1c1c" stroke="#1c1c1c" stroke-width="0.18" font-family='"Liberation Sans", Arial, sans-serif' font-weight="normal" font-style="normal" dominant-baseline="central">8.85</text>
<line x1="399.41" y1="342.40" x2="399.41" y2="339.90" stroke="#b8b8b8" stroke-width="0.7"/>
<line x1="399.41" y1="235.50" x2="399.41" y2="238.00" stroke="#b8b8b8" stroke-width="0.7"/>
<text x="399.41" y="349.60" font-size="7.50" text-anchor="middle" fill="#1c1c1c" stroke="#1c1c1c" stroke-width="0.18" font-family='"Liberation Sans", Arial, sans-serif' font-weight="normal" font-style="normal" dominant-baseline="central">8.9</text>
<line x1="418.13" y1="342.40" x2="418.13" y2="339.90" stroke="#b8b8b8" stroke-width="0.7"/>
<line x1="418.13" y1="235.50" x2="418.13" y2="238.00" stroke="#b8b8b8" stroke-width="0.7"/>
<text x="418.13" y="349.60" font-size="7.50" text-anchor="middle" fill="#1c1c1c" stroke="#1c1c1c" stroke-width="0.18" font-family='"Liberation Sans", Arial, sans-serif' font-weight="normal" font-style="normal" dominant-baseline="central">8.95</text>
<line x1="436.84" y1="342.40" x2="436.84" y2="339.90" stroke="#b8b8b8" stroke-width="0.7"/>
<line x1="436.84" y1="235.50" x2="436.84" y2="238.00" stroke="#b8b8b8" stroke-width="0.7"/>
<text x="436.84" y="349.60" font-size="7.50" text-anchor="middle" fill="#1c1c1c" stroke="#1c1c1c" stroke-width="0.18" font-family='"Liberation Sans", Arial, sans-serif' font-weight="normal" font-style="normal" dominant-baseline="central">9</text>
<line x1="455.56" y1="342.40" x2="455.56" y2="339.90" stroke="#b8b8b8" stroke-width="0.7"/>
<line x1="455.56" y1="235.50" x2="455.56" y2="238.00" stroke="#b8b8b8" stroke-width="0.7"/>
<text x="455.56" y="349.60" font-size="7.50" text-anchor="middle" fill="#1c1c1c" stroke="#1c1c1c" stroke-width="0.18" font-family='"Liberation Sans", Arial, sans-serif' font-weight="normal" font-style="normal" dominant-baseline="central">9.05</text>
<line x1="474.27" y1="342.40" x2="474.27" y2="339.90" stroke="#b8b8b8" stroke-width="0.7"/>
<line x1="474.27" y1="235.50" x2="474.27" y2="238.00" stroke="#b8b8b8" stroke-width="0.7"/>
<text x="474.27" y="349.60" font-size="7.50" text-anchor="middle" fill="#1c1c1c" stroke="#1c1c1c" stroke-width="0.18" font-family='"Liberation Sans", Arial, sans-serif' font-weight="normal" font-style="normal" dominant-baseline="central">9.1</text>
<line x1="492.99" y1="342.40" x2="492.99" y2="339.90" stroke="#b8b8b8" stroke-width="0.7"/>
<line x1="492.99" y1="235.50" x2="492.99" y2="238.00" stroke="#b8b8b8" stroke-width="0.7"/>
<text x="492.99" y="349.60" font-size="7.50" text-anchor="middle" fill="#1c1c1c" stroke="#1c1c1c" stroke-width="0.18" font-family='"Liberation Sans", Arial, sans-serif' font-weight="normal" font-style="normal" dominant-baseline="central">9.15</text>
<line x1="511.70" y1="342.40" x2="511.70" y2="339.90" stroke="#b8b8b8" stroke-width="0.7"/>
<line x1="511.70" y1="235.50" x2="511.70" y2="238.00" stroke="#b8b8b8" stroke-width="0.7"/>
<text x="511.70" y="349.60" font-size="7.50" text-anchor="middle" fill="#1c1c1c" stroke="#1c1c1c" stroke-width="0.18" font-family='"Liberation Sans", Arial, sans-serif' font-weight="normal" font-style="normal" dominant-baseline="central">9.2</text>
<text x="92.60" y="358.50" font-size="8.60" text-anchor="middle" fill="#1c1c1c" stroke="#1c1c1c" stroke-width="0.05" font-family='"Liberation Serif", "Times New Roman", serif' font-weight="normal" font-style="normal" dominant-baseline="central" letter-spacing="0.3"><tspan font-style="italic">t</tspan> (ns)</text>
<text x="4.80" y="62.35" font-size="8.20" text-anchor="middle" fill="#1c1c1c" stroke="#1c1c1c" stroke-width="0.05" font-family='"Liberation Serif", "Times New Roman", serif' font-weight="normal" font-style="normal" dominant-baseline="central" transform="rotate(-90 4.80 62.35)"><tspan font-style="italic">M</tspan> (<tspan font-style="italic">&#956;g</tspan>)</text>
<text x="4.30" y="170.30" font-size="8.30" text-anchor="middle" fill="#1c1c1c" stroke="#1c1c1c" stroke-width="0.05" font-family='"Liberation Serif", "Times New Roman", serif' font-weight="normal" font-style="normal" dominant-baseline="central" transform="rotate(-90 4.30 170.30)"><tspan font-style="italic">T</tspan> (keV)</text>
<text x="117.30" y="12.20" font-size="7.70" text-anchor="end" fill="#1c1c1c" stroke="#1c1c1c" stroke-width="0.18" font-family='"Liberation Sans", Arial, sans-serif' font-weight="normal" font-style="normal" dominant-baseline="central" transform="rotate(-90 117.30 12.20)">Stagnation</text>
<text x="271.90" y="358.50" font-size="8.60" text-anchor="middle" fill="#1c1c1c" stroke="#1c1c1c" stroke-width="0.05" font-family='"Liberation Serif", "Times New Roman", serif' font-weight="normal" font-style="normal" dominant-baseline="central" letter-spacing="0.3"><tspan font-style="italic">t</tspan> (ns)</text>
<text x="179.30" y="62.50" font-size="8.20" text-anchor="middle" fill="#1c1c1c" stroke="#1c1c1c" stroke-width="0.05" font-family='"Liberation Serif", "Times New Roman", serif' font-weight="normal" font-style="normal" dominant-baseline="central" transform="rotate(-90 179.30 62.50)"><tspan font-style="italic">M</tspan> (<tspan font-style="italic">&#956;g</tspan>)</text>
<text x="182.10" y="171.00" font-size="8.30" text-anchor="middle" fill="#1c1c1c" stroke="#1c1c1c" stroke-width="0.05" font-family='"Liberation Serif", "Times New Roman", serif' font-weight="normal" font-style="normal" dominant-baseline="central" transform="rotate(-90 182.10 171.00)"><tspan font-style="italic">T</tspan> (keV)</text>
<text x="272.45" y="10.90" font-size="7.60" text-anchor="end" fill="#1c1c1c" stroke="#1c1c1c" stroke-width="0.18" font-family='"Liberation Sans", Arial, sans-serif' font-weight="normal" font-style="normal" dominant-baseline="central" transform="rotate(-90 272.45 10.90)">Stagnation</text>
<text x="446.10" y="358.50" font-size="8.60" text-anchor="middle" fill="#1c1c1c" stroke="#1c1c1c" stroke-width="0.05" font-family='"Liberation Serif", "Times New Roman", serif' font-weight="normal" font-style="normal" dominant-baseline="central" letter-spacing="0.3"><tspan font-style="italic">t</tspan> (ns)</text>
<text x="355.50" y="62.35" font-size="8.20" text-anchor="middle" fill="#1c1c1c" stroke="#1c1c1c" stroke-width="0.05" font-family='"Liberation Serif", "Times New Roman", serif' font-weight="normal" font-style="normal" dominant-baseline="central" transform="rotate(-90 355.50 62.35)"><tspan font-style="italic">M</tspan> (<tspan font-style="italic">&#956;g</tspan>)</text>
<text x="355.70" y="170.60" font-size="8.30" text-anchor="middle" fill="#1c1c1c" stroke="#1c1c1c" stroke-width="0.05" font-family='"Liberation Serif", "Times New Roman", serif' font-weight="normal" font-style="normal" dominant-baseline="central" transform="rotate(-90 355.70 170.60)"><tspan font-style="italic">T</tspan> (keV)</text>
<text x="462.95" y="10.90" font-size="7.40" text-anchor="end" fill="#1c1c1c" stroke="#1c1c1c" stroke-width="0.18" font-family='"Liberation Sans", Arial, sans-serif' font-weight="normal" font-style="normal" dominant-baseline="central" transform="rotate(-90 462.95 10.90)">Stagnation</text>
<text x="37.95" y="22.50" font-size="6.20" fill="#1c1c1c" stroke="#1c1c1c" stroke-width="0.18" font-family='"Liberation Sans", Arial, sans-serif' font-weight="normal" font-style="normal" dominant-baseline="central" style="white-space:pre">Simulation</text>
<line x1="69.40" y1="22.80" x2="88.00" y2="22.80" stroke="#cc3048" stroke-width="1.40"/>
<text x="42.99" y="29.80" font-size="6.20" fill="#1c1c1c" stroke="#1c1c1c" stroke-width="0.18" font-family='"Liberation Sans", Arial, sans-serif' font-weight="normal" font-style="normal" dominant-baseline="central" style="white-space:pre">Eq. (5)</text>
<line x1="69.40" y1="29.80" x2="88.00" y2="29.80" stroke="#4444aa" stroke-width="1.60" stroke-dasharray="1.8 2.8"/>
<text x="45.24" y="37.20" font-size="7.60" fill="#333" stroke="#333" stroke-width="0.08" font-family='"Liberation Serif", "Times New Roman", serif' font-weight="normal" font-style="italic" dominant-baseline="central" style="white-space:pre">A</text>
<text x="49.88" y="37.20" font-size="7.30" fill="#333" stroke="#333" stroke-width="0.08" font-family='"Liberation Serif", "Times New Roman", serif' font-weight="normal" font-style="normal" dominant-baseline="central" style="white-space:pre"> = 1</text>
<line x1="69.40" y1="37.20" x2="88.00" y2="37.20" stroke="#151515" stroke-width="1.40" stroke-dasharray="5.8 2 1.3 2"/>
<text x="204.35" y="17.00" font-size="6.20" fill="#1c1c1c" stroke="#1c1c1c" stroke-width="0.18" font-family='"Liberation Sans", Arial, sans-serif' font-weight="normal" font-style="normal" dominant-baseline="central" style="white-space:pre">Simulation</text>
<line x1="237.50" y1="17.30" x2="256.30" y2="17.30" stroke="#cc3048" stroke-width="1.40"/>
<text x="209.39" y="24.30" font-size="6.20" fill="#1c1c1c" stroke="#1c1c1c" stroke-width="0.18" font-family='"Liberation Sans", Arial, sans-serif' font-weight="normal" font-style="normal" dominant-baseline="central" style="white-space:pre">Eq. (5)</text>
<line x1="237.50" y1="24.30" x2="256.30" y2="24.30" stroke="#4444aa" stroke-width="1.60" stroke-dasharray="1.8 2.8"/>
<text x="211.64" y="32.00" font-size="7.60" fill="#333" stroke="#333" stroke-width="0.08" font-family='"Liberation Serif", "Times New Roman", serif' font-weight="normal" font-style="italic" dominant-baseline="central" style="white-space:pre">A</text>
<text x="216.28" y="32.00" font-size="7.30" fill="#333" stroke="#333" stroke-width="0.08" font-family='"Liberation Serif", "Times New Roman", serif' font-weight="normal" font-style="normal" dominant-baseline="central" style="white-space:pre"> = 1</text>
<line x1="237.50" y1="32.00" x2="256.30" y2="32.00" stroke="#151515" stroke-width="1.40" stroke-dasharray="5.8 2 1.3 2"/>
<text x="381.95" y="17.00" font-size="6.20" fill="#1c1c1c" stroke="#1c1c1c" stroke-width="0.18" font-family='"Liberation Sans", Arial, sans-serif' font-weight="normal" font-style="normal" dominant-baseline="central" style="white-space:pre">Simulation</text>
<line x1="412.30" y1="17.30" x2="431.50" y2="17.30" stroke="#cc3048" stroke-width="1.40"/>
<text x="386.99" y="24.70" font-size="6.20" fill="#1c1c1c" stroke="#1c1c1c" stroke-width="0.18" font-family='"Liberation Sans", Arial, sans-serif' font-weight="normal" font-style="normal" dominant-baseline="central" style="white-space:pre">Eq. (5)</text>
<line x1="412.30" y1="24.70" x2="431.50" y2="24.70" stroke="#4444aa" stroke-width="1.60" stroke-dasharray="1.8 2.8"/>
<text x="389.24" y="32.40" font-size="7.60" fill="#333" stroke="#333" stroke-width="0.08" font-family='"Liberation Serif", "Times New Roman", serif' font-weight="normal" font-style="italic" dominant-baseline="central" style="white-space:pre">A</text>
<text x="393.88" y="32.40" font-size="7.30" fill="#333" stroke="#333" stroke-width="0.08" font-family='"Liberation Serif", "Times New Roman", serif' font-weight="normal" font-style="normal" dominant-baseline="central" style="white-space:pre"> = 1</text>
<line x1="412.30" y1="32.40" x2="431.50" y2="32.40" stroke="#151515" stroke-width="1.40" stroke-dasharray="5.8 2 1.3 2"/>
<text x="61.52" y="127.40" font-size="8.60" fill="#1c1c1c" stroke="#1c1c1c" stroke-width="0.08" font-family='"Liberation Serif", "Times New Roman", serif' font-weight="normal" font-style="italic" dominant-baseline="central" style="white-space:pre">T</text>
<text x="64.77" y="125.94" font-size="6.88" text-anchor="middle" fill="#1c1c1c" stroke="#1c1c1c" stroke-width="0.35" font-family='"Liberation Serif", "Times New Roman", serif' dominant-baseline="central">&#732;</text>
<line x1="73.00" y1="128.40" x2="91.50" y2="128.40" stroke="#cc3048" stroke-width="1.40"/>
<text x="60.57" y="134.00" font-size="8.60" fill="#1c1c1c" stroke="#1c1c1c" stroke-width="0.08" font-family='"Liberation Serif", "Times New Roman", serif' font-weight="normal" font-style="italic" dominant-baseline="central" style="white-space:pre">T</text>
<text x="65.35" y="135.80" font-size="5.33" fill="#1c1c1c" stroke="#1c1c1c" stroke-width="0.08" font-family='"Liberation Serif", "Times New Roman", serif' font-weight="normal" font-style="italic" dominant-baseline="central" style="white-space:pre">m</text>
<line x1="73.00" y1="135.40" x2="91.50" y2="135.40" stroke="#151515" stroke-width="1.40" stroke-dasharray="5.8 2 1.3 2"/>
<text x="59.40" y="141.60" font-size="8.60" fill="#1c1c1c" stroke="#1c1c1c" stroke-width="0.08" font-family='"Liberation Serif", "Times New Roman", serif' font-weight="normal" font-style="italic" dominant-baseline="central" style="white-space:pre">T</text>
<text x="64.19" y="143.40" font-size="5.33" fill="#1c1c1c" stroke="#1c1c1c" stroke-width="0.08" font-family='"Liberation Serif", "Times New Roman", serif' font-weight="normal" font-style="italic" dominant-baseline="central" style="white-space:pre">ice</text>
<line x1="73.00" y1="142.60" x2="91.50" y2="142.60" stroke="#78b260" stroke-width="1.20" stroke-dasharray="1 1"/>
<text x="41.47" y="150.00" font-size="8.60" fill="#1c1c1c" stroke="#1c1c1c" stroke-width="0.08" font-family='"Liberation Serif", "Times New Roman", serif' font-weight="normal" font-style="italic" dominant-baseline="central" style="white-space:pre">T</text>
<text x="44.72" y="148.54" font-size="6.88" text-anchor="middle" fill="#1c1c1c" stroke="#1c1c1c" stroke-width="0.35" font-family='"Liberation Serif", "Times New Roman", serif' dominant-baseline="central">&#732;</text>
<text x="46.25" y="150.20" font-size="5.90" fill="#1c1c1c" stroke="#1c1c1c" stroke-width="0.18" font-family='"Liberation Sans", Arial, sans-serif' font-weight="normal" font-style="normal" dominant-baseline="central" style="white-space:pre"> - Eq. (4)</text>
<line x1="73.00" y1="149.70" x2="91.50" y2="149.70" stroke="#4444aa" stroke-width="1.40" stroke-dasharray="2.9 2.3"/>
<text x="225.22" y="127.80" font-size="8.60" fill="#1c1c1c" stroke="#1c1c1c" stroke-width="0.08" font-family='"Liberation Serif", "Times New Roman", serif' font-weight="normal" font-style="italic" dominant-baseline="central" style="white-space:pre">T</text>
<text x="228.47" y="126.34" font-size="6.88" text-anchor="middle" fill="#1c1c1c" stroke="#1c1c1c" stroke-width="0.35" font-family='"Liberation Serif", "Times New Roman", serif' dominant-baseline="central">&#732;</text>
<line x1="235.20" y1="129.00" x2="253.30" y2="129.00" stroke="#cc3048" stroke-width="1.40"/>
<text x="224.47" y="135.00" font-size="8.60" fill="#1c1c1c" stroke="#1c1c1c" stroke-width="0.08" font-family='"Liberation Serif", "Times New Roman", serif' font-weight="normal" font-style="italic" dominant-baseline="central" style="white-space:pre">T</text>
<text x="229.25" y="136.80" font-size="5.33" fill="#1c1c1c" stroke="#1c1c1c" stroke-width="0.08" font-family='"Liberation Serif", "Times New Roman", serif' font-weight="normal" font-style="italic" dominant-baseline="central" style="white-space:pre">m</text>
<line x1="235.20" y1="135.60" x2="253.30" y2="135.60" stroke="#151515" stroke-width="1.40" stroke-dasharray="5.8 2 1.3 2"/>
<text x="222.60" y="141.90" font-size="8.60" fill="#1c1c1c" stroke="#1c1c1c" stroke-width="0.08" font-family='"Liberation Serif", "Times New Roman", serif' font-weight="normal" font-style="italic" dominant-baseline="central" style="white-space:pre">T</text>
<text x="227.39" y="143.70" font-size="5.33" fill="#1c1c1c" stroke="#1c1c1c" stroke-width="0.08" font-family='"Liberation Serif", "Times New Roman", serif' font-weight="normal" font-style="italic" dominant-baseline="central" style="white-space:pre">ice</text>
<line x1="235.20" y1="142.10" x2="253.30" y2="142.10" stroke="#78b260" stroke-width="1.20" stroke-dasharray="1 1"/>
<text x="204.17" y="150.10" font-size="8.60" fill="#1c1c1c" stroke="#1c1c1c" stroke-width="0.08" font-family='"Liberation Serif", "Times New Roman", serif' font-weight="normal" font-style="italic" dominant-baseline="central" style="white-space:pre">T</text>
<text x="207.42" y="148.64" font-size="6.88" text-anchor="middle" fill="#1c1c1c" stroke="#1c1c1c" stroke-width="0.35" font-family='"Liberation Serif", "Times New Roman", serif' dominant-baseline="central">&#732;</text>
<text x="208.95" y="150.30" font-size="5.90" fill="#1c1c1c" stroke="#1c1c1c" stroke-width="0.18" font-family='"Liberation Sans", Arial, sans-serif' font-weight="normal" font-style="normal" dominant-baseline="central" style="white-space:pre"> - Eq. (4)</text>
<line x1="235.20" y1="149.40" x2="253.30" y2="149.40" stroke="#4444aa" stroke-width="1.40" stroke-dasharray="2.9 2.3"/>
<text x="413.12" y="134.70" font-size="8.60" fill="#1c1c1c" stroke="#1c1c1c" stroke-width="0.08" font-family='"Liberation Serif", "Times New Roman", serif' font-weight="normal" font-style="italic" dominant-baseline="central" style="white-space:pre">T</text>
<text x="416.37" y="133.24" font-size="6.88" text-anchor="middle" fill="#1c1c1c" stroke="#1c1c1c" stroke-width="0.35" font-family='"Liberation Serif", "Times New Roman", serif' dominant-baseline="central">&#732;</text>
<line x1="424.60" y1="134.90" x2="443.20" y2="134.90" stroke="#cc3048" stroke-width="1.40"/>
<text x="411.57" y="141.60" font-size="8.60" fill="#1c1c1c" stroke="#1c1c1c" stroke-width="0.08" font-family='"Liberation Serif", "Times New Roman", serif' font-weight="normal" font-style="italic" dominant-baseline="central" style="white-space:pre">T</text>
<text x="416.35" y="143.40" font-size="5.33" fill="#1c1c1c" stroke="#1c1c1c" stroke-width="0.08" font-family='"Liberation Serif", "Times New Roman", serif' font-weight="normal" font-style="italic" dominant-baseline="central" style="white-space:pre">m</text>
<line x1="424.60" y1="142.50" x2="443.20" y2="142.50" stroke="#151515" stroke-width="1.40" stroke-dasharray="5.8 2 1.3 2"/>
<text x="410.30" y="147.90" font-size="8.60" fill="#1c1c1c" stroke="#1c1c1c" stroke-width="0.08" font-family='"Liberation Serif", "Times New Roman", serif' font-weight="normal" font-style="italic" dominant-baseline="central" style="white-space:pre">T</text>
<text x="415.09" y="149.70" font-size="5.33" fill="#1c1c1c" stroke="#1c1c1c" stroke-width="0.08" font-family='"Liberation Serif", "Times New Roman", serif' font-weight="normal" font-style="italic" dominant-baseline="central" style="white-space:pre">ice</text>
<line x1="424.60" y1="149.10" x2="443.20" y2="149.10" stroke="#78b260" stroke-width="1.20" stroke-dasharray="1 1"/>
<text x="391.87" y="156.30" font-size="8.60" fill="#1c1c1c" stroke="#1c1c1c" stroke-width="0.08" font-family='"Liberation Serif", "Times New Roman", serif' font-weight="normal" font-style="italic" dominant-baseline="central" style="white-space:pre">T</text>
<text x="395.12" y="154.84" font-size="6.88" text-anchor="middle" fill="#1c1c1c" stroke="#1c1c1c" stroke-width="0.35" font-family='"Liberation Serif", "Times New Roman", serif' dominant-baseline="central">&#732;</text>
<text x="396.65" y="156.50" font-size="5.90" fill="#1c1c1c" stroke="#1c1c1c" stroke-width="0.18" font-family='"Liberation Sans", Arial, sans-serif' font-weight="normal" font-style="normal" dominant-baseline="central" style="white-space:pre"> - Eq. (4)</text>
<line x1="424.60" y1="156.00" x2="443.20" y2="156.00" stroke="#4444aa" stroke-width="1.40" stroke-dasharray="2.9 2.3"/>
<path d="M23.20,110.30 C24.33,110.50 27.87,111.15 30.00,111.50 C32.13,111.85 33.67,112.52 36.00,112.40 C38.33,112.28 41.50,110.95 44.00,110.80 C46.50,110.65 48.62,111.13 51.00,111.50 C53.38,111.87 56.30,112.88 58.30,113.00 C60.30,113.12 61.40,112.78 63.00,112.20 C64.60,111.62 65.75,110.88 67.90,109.50 C70.05,108.12 73.88,105.28 75.90,103.90 C77.92,102.52 78.58,101.88 80.00,101.20 C81.42,100.52 82.93,100.10 84.40,99.80 C85.87,99.50 87.33,99.22 88.80,99.40 C90.27,99.58 91.92,100.65 93.20,100.90 C94.48,101.15 95.40,101.27 96.50,100.90 C97.60,100.53 98.52,99.72 99.80,98.70 C101.08,97.68 102.73,96.18 104.20,94.80 C105.67,93.42 107.13,91.77 108.60,90.40 C110.07,89.03 111.53,87.60 113.00,86.60 C114.47,85.60 116.12,85.13 117.40,84.40 C118.68,83.67 119.77,83.22 120.70,82.20 C121.63,81.18 122.03,80.65 123.00,78.30 C123.97,75.95 125.37,71.17 126.50,68.10 C127.63,65.03 128.83,61.97 129.80,59.90 C130.77,57.83 131.33,57.22 132.30,55.70 C133.27,54.18 134.37,53.00 135.60,50.80 C136.83,48.60 138.30,46.05 139.70,42.50 C141.10,38.95 142.48,33.08 144.00,29.50 C145.52,25.92 147.47,23.03 148.80,21.00 C150.13,18.97 150.97,18.10 152.00,17.30 C153.03,16.50 154.00,16.15 155.00,16.20 C156.00,16.25 157.00,16.83 158.00,17.60 C159.00,18.37 159.97,19.67 161.00,20.80 C162.03,21.93 163.02,23.23 164.20,24.40 C165.38,25.57 167.22,27.12 168.10,27.80 C168.98,28.48 169.27,28.38 169.50,28.50" fill="none" stroke="#cc3048" stroke-width="1.40" stroke-linejoin="round" stroke-linecap="butt" clip-path="url(#c0top)"/>
<path d="M23.20,110.80 C26.83,110.80 38.37,110.83 45.00,110.80 C51.63,110.77 58.38,110.95 63.00,110.60 C67.62,110.25 69.50,109.72 72.70,108.70 C75.90,107.68 79.42,105.53 82.20,104.50 C84.98,103.47 86.55,103.47 89.40,102.50 C92.25,101.53 96.37,100.17 99.30,98.70 C102.23,97.23 104.98,95.08 107.00,93.70 C109.02,92.32 110.03,91.68 111.40,90.40 C112.77,89.12 113.55,87.83 115.20,86.00 C116.85,84.17 119.83,81.27 121.30,79.40 C122.77,77.53 122.30,78.60 124.00,74.80 C125.70,71.00 129.98,60.60 131.50,56.60 C133.02,52.60 132.55,53.28 133.10,50.80 C133.65,48.32 134.27,44.17 134.80,41.70 C135.33,39.23 135.63,38.57 136.30,36.00 C136.97,33.43 137.92,29.52 138.80,26.30 C139.68,23.08 140.90,19.18 141.60,16.70 C142.30,14.22 142.52,13.18 143.00,11.40 C143.48,9.62 144.25,6.90 144.50,6.00" fill="none" stroke="#4444aa" stroke-width="1.60" stroke-linejoin="round" stroke-linecap="butt" stroke-dasharray="1.8 2.8" clip-path="url(#c0top)"/>
<path d="M23.20,111.10 C26.83,111.10 38.30,111.15 45.00,111.10 C51.70,111.05 58.25,111.33 63.40,110.80 C68.55,110.27 73.13,108.53 75.90,107.90 C78.67,107.27 77.48,107.48 80.00,107.00 C82.52,106.52 87.33,105.83 91.00,105.00 C94.67,104.17 98.33,103.12 102.00,102.00 C105.67,100.88 109.68,99.50 113.00,98.30 C116.32,97.10 119.07,96.30 121.90,94.80 C124.73,93.30 127.03,91.95 130.00,89.30 C132.97,86.65 137.20,81.53 139.70,78.90 C142.20,76.27 143.28,75.07 145.00,73.50 C146.72,71.93 148.17,70.75 150.00,69.50 C151.83,68.25 153.85,66.97 156.00,66.00 C158.15,65.03 160.65,64.27 162.90,63.70 C165.15,63.13 168.40,62.78 169.50,62.60" fill="none" stroke="#151515" stroke-width="1.40" stroke-linejoin="round" stroke-linecap="butt" stroke-dasharray="5.8 2 1.3 2" clip-path="url(#c0top)"/>
<path d="M23.30,199.60 C24.58,198.50 29.30,194.93 31.00,193.00 C32.70,191.07 32.77,189.48 33.50,188.00 C34.23,186.52 34.25,184.93 35.40,184.10 C36.55,183.27 38.67,183.25 40.40,183.00 C42.13,182.75 44.10,184.18 45.80,182.60 C47.50,181.02 49.00,176.22 50.60,173.50 C52.20,170.78 54.20,168.55 55.40,166.30 C56.60,164.05 57.27,161.62 57.80,160.00 C58.33,158.38 58.20,156.68 58.60,156.60 C59.00,156.52 59.62,158.77 60.20,159.50 C60.78,160.23 61.30,160.60 62.10,161.00 C62.90,161.40 64.03,161.58 65.00,161.90 C65.97,162.22 66.78,161.70 67.90,162.90 C69.02,164.10 70.27,167.33 71.70,169.10 C73.13,170.87 75.12,172.62 76.50,173.50 C77.88,174.38 78.77,174.20 80.00,174.40 C81.23,174.60 82.15,175.10 83.90,174.70 C85.65,174.30 88.48,174.10 90.50,172.00 C92.52,169.90 94.47,164.50 96.00,162.10 C97.53,159.70 97.92,158.08 99.70,157.60 C101.48,157.12 104.37,159.70 106.70,159.20 C109.03,158.70 111.37,156.55 113.70,154.60 C116.03,152.65 118.37,148.80 120.70,147.50 C123.03,146.20 125.93,146.92 127.70,146.80 C129.47,146.68 129.73,147.65 131.30,146.80 C132.87,145.95 135.15,142.35 137.10,141.70 C139.05,141.05 140.67,141.93 143.00,142.90 C145.33,143.87 148.18,145.17 151.10,147.50 C154.02,149.83 158.15,154.17 160.50,156.90 C162.85,159.63 163.63,161.17 165.20,163.90 C166.77,166.63 169.12,171.73 169.90,173.30" fill="none" stroke="#cc3048" stroke-width="1.40" stroke-linejoin="round" stroke-linecap="butt" clip-path="url(#c0mid)"/>
<path d="M23.30,210.60 C24.58,209.87 28.80,208.77 31.00,206.20 C33.20,203.63 34.93,196.82 36.50,195.20 C38.07,193.58 39.12,196.25 40.40,196.50 C41.68,196.75 42.83,197.12 44.20,196.70 C45.57,196.28 47.55,194.87 48.60,194.00 C49.65,193.13 49.53,193.00 50.50,191.50 C51.47,190.00 53.35,187.28 54.40,185.00 C55.45,182.72 56.07,179.63 56.80,177.80 C57.53,175.97 58.18,174.43 58.80,174.00 C59.42,173.57 59.78,174.42 60.50,175.20 C61.22,175.98 62.03,177.95 63.10,178.70 C64.17,179.45 65.83,178.90 66.90,179.70 C67.97,180.50 68.70,182.13 69.50,183.50 C70.30,184.87 71.00,186.20 71.70,187.90 C72.40,189.60 72.77,191.93 73.70,193.70 C74.63,195.47 75.78,197.27 77.30,198.50 C78.82,199.73 80.97,201.10 82.80,201.10 C84.63,201.10 86.42,200.23 88.30,198.50 C90.18,196.77 92.43,192.87 94.10,190.70 C95.77,188.53 96.92,186.20 98.30,185.50 C99.68,184.80 100.80,185.38 102.40,186.50 C104.00,187.62 106.52,191.08 107.90,192.20 C109.28,193.32 109.55,193.57 110.70,193.20 C111.85,192.83 113.43,191.23 114.80,190.00 C116.17,188.77 117.53,186.27 118.90,185.80 C120.27,185.33 121.62,186.38 123.00,187.20 C124.38,188.02 126.02,190.02 127.20,190.70 C128.38,191.38 128.45,191.67 130.10,191.30 C131.75,190.93 134.37,188.50 137.10,188.50 C139.83,188.50 143.38,190.83 146.50,191.30 C149.62,191.77 153.08,191.18 155.80,191.30 C158.52,191.42 160.45,190.92 162.80,192.00 C165.15,193.08 168.72,196.83 169.90,197.80" fill="none" stroke="#151515" stroke-width="1.40" stroke-linejoin="round" stroke-linecap="butt" stroke-dasharray="5.8 2 1.3 2" clip-path="url(#c0mid)"/>
<path d="M23.30,225.60 C26.92,225.57 38.88,225.52 45.00,225.40 C51.12,225.28 54.17,225.17 60.00,224.90 C65.83,224.63 74.30,224.25 80.00,223.80 C85.70,223.35 90.87,222.57 94.20,222.20 C97.53,221.83 97.18,222.38 100.00,221.60 C102.82,220.82 108.03,218.93 111.10,217.50 C114.17,216.07 115.23,214.33 118.40,213.00 C121.57,211.67 126.20,210.67 130.10,209.50 C134.00,208.33 138.30,206.70 141.80,206.00 C145.30,205.30 147.98,205.10 151.10,205.30 C154.22,205.50 157.37,206.30 160.50,207.20 C163.63,208.10 168.33,210.12 169.90,210.70" fill="none" stroke="#78b260" stroke-width="1.20" stroke-linejoin="round" stroke-linecap="butt" stroke-dasharray="1 1" clip-path="url(#c0mid)"/>
<path d="M23.30,199.00 C24.58,197.92 29.30,195.17 31.00,192.50 C32.70,189.83 32.58,185.13 33.50,183.00 C34.42,180.87 35.10,180.33 36.50,179.70 C37.90,179.07 40.25,179.57 41.90,179.20 C43.55,178.83 44.95,178.53 46.40,177.50 C47.85,176.47 49.10,174.95 50.60,173.00 C52.10,171.05 54.20,168.05 55.40,165.80 C56.60,163.55 57.27,161.12 57.80,159.50 C58.33,157.88 58.20,156.18 58.60,156.10 C59.00,156.02 59.62,158.27 60.20,159.00 C60.78,159.73 61.30,160.10 62.10,160.50 C62.90,160.90 64.03,161.08 65.00,161.40 C65.97,161.72 66.78,161.20 67.90,162.40 C69.02,163.60 70.27,166.83 71.70,168.60 C73.13,170.37 75.12,172.12 76.50,173.00 C77.88,173.88 78.77,173.70 80.00,173.90 C81.23,174.10 82.15,174.60 83.90,174.20 C85.65,173.80 88.48,173.60 90.50,171.50 C92.52,169.40 94.47,164.00 96.00,161.60 C97.53,159.20 97.92,157.58 99.70,157.10 C101.48,156.62 104.37,159.20 106.70,158.70 C109.03,158.20 111.37,156.05 113.70,154.10 C116.03,152.15 118.37,148.30 120.70,147.00 C123.03,145.70 125.93,146.55 127.70,146.30 C129.47,146.05 129.73,146.58 131.30,145.50 C132.87,144.42 134.57,140.52 137.10,139.80 C139.63,139.08 143.38,140.10 146.50,141.20 C149.62,142.30 153.08,144.37 155.80,146.40 C158.52,148.43 160.65,150.28 162.80,153.40 C164.95,156.52 167.50,162.75 168.70,165.10 C169.90,167.45 169.78,167.10 170.00,167.50" fill="none" stroke="#4444aa" stroke-width="1.50" stroke-linejoin="round" stroke-linecap="butt" stroke-dasharray="2 2" clip-path="url(#c0mid)"/>
<text x="102.18" y="183.20" font-size="8.60" fill="#151515" stroke="#151515" stroke-width="0.08" font-family='"Liberation Serif", "Times New Roman", serif' font-weight="normal" font-style="italic" dominant-baseline="central" style="white-space:pre">T</text>
<text x="106.97" y="185.00" font-size="5.33" fill="#151515" stroke="#151515" stroke-width="0.08" font-family='"Liberation Serif", "Times New Roman", serif' font-weight="normal" font-style="italic" dominant-baseline="central" style="white-space:pre">m</text>
<text x="100.00" y="212.80" font-size="8.60" fill="#78b260" stroke="#78b260" stroke-width="0.08" font-family='"Liberation Serif", "Times New Roman", serif' font-weight="normal" font-style="italic" dominant-baseline="central" style="white-space:pre">T</text>
<text x="104.78" y="214.60" font-size="5.33" fill="#78b260" stroke="#78b260" stroke-width="0.08" font-family='"Liberation Serif", "Times New Roman", serif' font-weight="normal" font-style="italic" dominant-baseline="central" style="white-space:pre">ice</text>
<text x="129.91" y="138.60" font-size="8.60" fill="#4444aa" stroke="#4444aa" stroke-width="0.08" font-family='"Liberation Serif", "Times New Roman", serif' font-weight="normal" font-style="italic" dominant-baseline="central" style="white-space:pre" opacity="0.80">T</text>
<text x="133.16" y="137.14" font-size="6.88" text-anchor="middle" fill="#4444aa" stroke="#4444aa" stroke-width="0.35" font-family='"Liberation Serif", "Times New Roman", serif' dominant-baseline="central" opacity="0.80">&#732;</text>
<text x="129.91" y="153.70" font-size="8.60" fill="#e07050" stroke="#e07050" stroke-width="0.08" font-family='"Liberation Serif", "Times New Roman", serif' font-weight="normal" font-style="italic" dominant-baseline="central" style="white-space:pre" opacity="0.80">T</text>
<text x="133.16" y="152.24" font-size="6.88" text-anchor="middle" fill="#e07050" stroke="#e07050" stroke-width="0.35" font-family='"Liberation Serif", "Times New Roman", serif' dominant-baseline="central" opacity="0.80">&#732;</text>
<path d="M23.00,277.10 C23.97,278.75 26.37,283.88 28.80,287.00 C31.23,290.12 34.67,293.52 37.60,295.80 C40.53,298.08 43.47,299.23 46.40,300.70 C49.33,302.17 52.27,303.65 55.20,304.60 C58.13,305.55 61.60,306.58 64.00,306.40 C66.40,306.22 67.75,305.63 69.60,303.50 C71.45,301.37 73.27,296.53 75.10,293.60 C76.93,290.67 78.95,287.43 80.60,285.90 C82.25,284.37 83.53,284.22 85.00,284.40 C86.47,284.58 87.93,285.28 89.40,287.00 C90.87,288.72 92.33,293.12 93.80,294.70 C95.27,296.28 97.00,296.45 98.20,296.50 C99.40,296.55 99.88,296.40 101.00,295.00 C102.12,293.60 103.33,289.62 104.90,288.10 C106.47,286.58 108.72,285.83 110.40,285.90 C112.08,285.97 113.47,287.45 115.00,288.50 C116.53,289.55 118.32,292.13 119.60,292.20 C120.88,292.27 121.55,290.35 122.70,288.90 C123.85,287.45 125.08,285.23 126.50,283.50 C127.92,281.77 130.17,279.37 131.20,278.50 C132.23,277.63 131.93,277.92 132.70,278.30 C133.47,278.68 134.90,280.43 135.80,280.80 C136.70,281.17 137.08,280.93 138.10,280.50 C139.12,280.07 140.62,278.65 141.90,278.20 C143.18,277.75 144.52,277.55 145.80,277.80 C147.08,278.05 148.07,278.62 149.60,279.70 C151.13,280.78 153.28,282.60 155.00,284.30 C156.72,286.00 158.40,288.68 159.90,289.90 C161.40,291.12 162.33,291.17 164.00,291.60 C165.67,292.03 168.92,292.35 169.90,292.50" fill="none" stroke="#3a7c3c" stroke-width="1.40" stroke-linejoin="round" stroke-linecap="butt" clip-path="url(#c0bot)"/>
<path d="M23.00,259.60 C23.93,259.43 26.55,259.72 28.60,258.60 C30.65,257.48 32.77,253.63 35.30,252.90 C37.83,252.17 40.98,253.82 43.80,254.20 C46.62,254.58 49.68,255.47 52.20,255.20 C54.72,254.93 56.38,252.03 58.90,252.60 C61.42,253.17 64.78,256.53 67.30,258.60 C69.82,260.67 71.60,263.13 74.00,265.00 C76.40,266.87 79.32,268.33 81.70,269.80 C84.08,271.27 86.08,272.40 88.30,273.80 C90.52,275.20 92.97,276.73 95.00,278.20 C97.03,279.67 98.67,280.77 100.50,282.60 C102.33,284.43 104.17,287.00 106.00,289.20 C107.83,291.40 109.67,294.15 111.50,295.80 C113.33,297.45 115.35,297.82 117.00,299.10 C118.65,300.38 119.75,301.85 121.40,303.50 C123.05,305.15 125.07,307.33 126.90,309.00 C128.73,310.67 130.38,312.32 132.40,313.50 C134.42,314.68 136.78,315.00 139.00,316.10 C141.22,317.20 143.48,319.25 145.70,320.10 C147.92,320.95 150.10,321.20 152.30,321.20 C154.50,321.20 156.88,320.58 158.90,320.10 C160.92,319.62 162.57,318.48 164.40,318.30 C166.23,318.12 168.98,318.88 169.90,319.00" fill="none" stroke="#2e2e9c" stroke-width="1.40" stroke-linejoin="round" stroke-linecap="butt" clip-path="url(#c0bot)"/>
<path d="M23.00,330.40 C23.50,330.55 25.00,330.82 26.00,331.30 C27.00,331.78 27.95,332.42 29.00,333.30 C30.05,334.18 31.20,335.30 32.30,336.60 C33.40,337.90 34.63,340.35 35.60,341.10 C36.57,341.85 37.13,341.37 38.10,341.10 C39.07,340.83 40.02,340.18 41.40,339.50 C42.78,338.82 44.97,337.38 46.40,337.00 C47.83,336.62 48.90,336.90 50.00,337.20 C51.10,337.50 51.58,337.98 53.00,338.80 C54.42,339.62 56.83,341.73 58.50,342.10 C60.17,342.47 61.15,342.28 63.00,341.00 C64.85,339.72 67.22,336.60 69.60,334.40 C71.98,332.20 74.92,329.27 77.30,327.80 C79.68,326.33 81.70,325.23 83.90,325.60 C86.10,325.97 88.48,328.43 90.50,330.00 C92.52,331.57 94.33,334.27 96.00,335.00 C97.67,335.73 98.83,335.42 100.50,334.40 C102.17,333.38 104.35,330.73 106.00,328.90 C107.65,327.07 108.93,324.13 110.40,323.40 C111.87,322.67 113.33,323.95 114.80,324.50 C116.27,325.05 117.73,326.88 119.20,326.70 C120.67,326.52 122.13,325.60 123.60,323.40 C125.07,321.20 126.72,316.33 128.00,313.50 C129.28,310.67 130.20,307.15 131.30,306.40 C132.40,305.65 133.32,308.92 134.60,309.00 C135.88,309.08 137.33,307.63 139.00,306.90 C140.67,306.17 142.75,304.60 144.60,304.60 C146.45,304.60 148.27,305.42 150.10,306.90 C151.93,308.38 153.95,311.12 155.60,313.50 C157.25,315.88 158.53,319.45 160.00,321.20 C161.47,322.95 162.75,323.53 164.40,324.00 C166.05,324.47 168.98,324.00 169.90,324.00" fill="none" stroke="#cc3048" stroke-width="1.40" stroke-linejoin="round" stroke-linecap="butt" clip-path="url(#c0bot)"/>
<path d="M23.00,289.70 C23.97,290.17 26.37,291.28 28.80,292.50 C31.23,293.72 34.67,296.00 37.60,297.00 C40.53,298.00 43.47,298.03 46.40,298.50 C49.33,298.97 53.18,299.50 55.20,299.80 C57.22,300.10 57.03,300.30 58.50,300.30 C59.97,300.30 61.97,300.18 64.00,299.80 C66.03,299.42 68.48,299.22 70.70,298.00 C72.92,296.78 75.10,294.25 77.30,292.50 C79.50,290.75 82.07,288.37 83.90,287.50 C85.73,286.63 86.83,286.83 88.30,287.30 C89.77,287.77 91.23,289.53 92.70,290.30 C94.17,291.07 95.98,291.63 97.10,291.90 C98.22,292.17 98.28,292.35 99.40,291.90 C100.52,291.45 102.33,290.57 103.80,289.20 C105.27,287.83 106.73,285.35 108.20,283.70 C109.67,282.05 111.13,280.13 112.60,279.30 C114.07,278.47 115.70,279.00 117.00,278.70 C118.30,278.40 119.32,278.52 120.40,277.50 C121.48,276.48 122.60,274.70 123.50,272.60 C124.40,270.50 125.03,267.72 125.80,264.90 C126.57,262.08 127.47,258.77 128.10,255.70 C128.73,252.63 129.08,248.93 129.60,246.50 C130.12,244.07 130.68,242.43 131.20,241.10 C131.72,239.77 132.12,238.83 132.70,238.50 C133.28,238.17 134.12,239.18 134.70,239.10 C135.28,239.02 135.63,238.77 136.20,238.00 C136.77,237.23 134.45,235.08 138.10,234.50 C141.75,233.92 154.00,232.88 158.10,234.50 C162.20,236.12 160.78,243.70 162.70,244.20 C164.62,244.70 168.45,238.62 169.60,237.50" fill="none" stroke="#151515" stroke-width="1.40" stroke-linejoin="round" stroke-linecap="butt" clip-path="url(#c0bot)"/>
<text x="42.08" y="246.80" font-size="8.60" fill="#4a4ab8" stroke="#4a4ab8" stroke-width="0.08" font-family='"Liberation Serif", "Times New Roman", serif' font-weight="normal" font-style="normal" dominant-baseline="central" style="white-space:pre">ln(</text>
<text x="51.63" y="246.80" font-size="8.60" fill="#4a4ab8" stroke="#4a4ab8" stroke-width="0.08" font-family='"Liberation Serif", "Times New Roman", serif' font-weight="normal" font-style="italic" dominant-baseline="central" style="white-space:pre">T</text>
<text x="56.42" y="248.60" font-size="5.33" fill="#4a4ab8" stroke="#4a4ab8" stroke-width="0.08" font-family='"Liberation Serif", "Times New Roman", serif' font-weight="normal" font-style="italic" dominant-baseline="central" style="white-space:pre">m</text>
<text x="60.27" y="246.80" font-size="8.60" fill="#4a4ab8" stroke="#4a4ab8" stroke-width="0.08" font-family='"Liberation Serif", "Times New Roman", serif' font-weight="normal" font-style="normal" dominant-baseline="central" style="white-space:pre">/</text>
<text x="62.66" y="246.80" font-size="8.60" fill="#4a4ab8" stroke="#4a4ab8" stroke-width="0.08" font-family='"Liberation Serif", "Times New Roman", serif' font-weight="normal" font-style="italic" dominant-baseline="central" style="white-space:pre">T</text>
<text x="67.44" y="248.60" font-size="5.33" fill="#4a4ab8" stroke="#4a4ab8" stroke-width="0.08" font-family='"Liberation Serif", "Times New Roman", serif' font-weight="normal" font-style="italic" dominant-baseline="central" style="white-space:pre">ice</text>
<text x="73.65" y="246.80" font-size="8.60" fill="#4a4ab8" stroke="#4a4ab8" stroke-width="0.08" font-family='"Liberation Serif", "Times New Roman", serif' font-weight="normal" font-style="normal" dominant-baseline="central" style="white-space:pre">)</text>
<text x="129.25" y="254.90" font-size="9.00" fill="#151515" stroke="#151515" stroke-width="0.08" font-family='"Liberation Serif", "Times New Roman", serif' font-weight="normal" font-style="italic" dominant-baseline="central" style="white-space:pre">A</text>
<text x="131.25" y="283.80" font-size="8.60" fill="#6f986f" stroke="#6f986f" stroke-width="0.08" font-family='"Liberation Serif", "Times New Roman", serif' font-weight="normal" font-style="italic" dominant-baseline="central" style="white-space:pre">&#961;</text>
<text x="135.38" y="285.60" font-size="5.33" fill="#6f986f" stroke="#6f986f" stroke-width="0.08" font-family='"Liberation Serif", "Times New Roman", serif' font-weight="normal" font-style="italic" dominant-baseline="central" style="white-space:pre">m</text>
<text x="139.23" y="283.80" font-size="8.60" fill="#6f986f" stroke="#6f986f" stroke-width="0.08" font-family='"Liberation Serif", "Times New Roman", serif' font-weight="normal" font-style="italic" dominant-baseline="central" style="white-space:pre">/</text>
<text x="141.62" y="283.80" font-size="8.60" fill="#6f986f" stroke="#6f986f" stroke-width="0.08" font-family='"Liberation Serif", "Times New Roman", serif' font-weight="normal" font-style="italic" dominant-baseline="central" style="white-space:pre">&#961;</text>
<text x="144.20" y="284.66" font-size="5.16" text-anchor="middle" fill="#6f986f" stroke="#6f986f" stroke-width="0.35" font-family='"Liberation Serif", "Times New Roman", serif' dominant-baseline="central">&#175;</text>
<text x="67.59" y="326.00" font-size="8.60" fill="#d85060" stroke="#d85060" stroke-width="0.08" font-family='"Liberation Serif", "Times New Roman", serif' font-weight="normal" font-style="italic" dominant-baseline="central" style="white-space:pre">D</text>
<path d="M201.00,107.40 C202.27,107.02 206.43,105.70 208.60,105.10 C210.77,104.50 212.23,104.08 214.00,103.80 C215.77,103.52 216.85,103.33 219.20,103.40 C221.55,103.47 225.43,103.92 228.10,104.20 C230.77,104.48 232.85,105.38 235.20,105.10 C237.55,104.82 239.55,103.67 242.20,102.50 C244.85,101.33 248.43,99.43 251.10,98.10 C253.77,96.77 255.83,95.30 258.20,94.50 C260.57,93.70 262.95,93.88 265.30,93.30 C267.65,92.72 270.28,92.10 272.30,91.00 C274.32,89.90 275.72,88.65 277.40,86.70 C279.08,84.75 280.75,81.37 282.40,79.30 C284.05,77.23 285.65,75.55 287.30,74.30 C288.95,73.05 290.65,73.45 292.30,71.80 C293.95,70.15 295.55,66.87 297.20,64.40 C298.85,61.93 300.55,59.47 302.20,57.00 C303.85,54.53 305.45,51.87 307.10,49.60 C308.75,47.33 310.45,45.47 312.10,43.40 C313.75,41.33 315.35,38.73 317.00,37.20 C318.65,35.67 320.13,34.95 322.00,34.20 C323.87,33.45 326.13,32.70 328.20,32.70 C330.27,32.70 332.55,33.67 334.40,34.20 C336.25,34.73 337.73,35.37 339.30,35.90 C340.87,36.43 343.05,37.15 343.80,37.40" fill="none" stroke="#cc3048" stroke-width="1.40" stroke-linejoin="round" stroke-linecap="butt" clip-path="url(#c1top)"/>
<path d="M201.00,109.60 C202.27,109.35 205.57,108.55 208.60,108.10 C211.63,107.65 215.07,107.40 219.20,106.90 C223.33,106.40 229.27,105.90 233.40,105.10 C237.53,104.30 241.05,102.98 244.00,102.10 C246.95,101.22 248.43,100.77 251.10,99.80 C253.77,98.83 257.35,97.33 260.00,96.30 C262.65,95.27 264.65,94.48 267.00,93.60 C269.35,92.72 272.03,92.32 274.10,91.00 C276.17,89.68 277.67,87.78 279.40,85.70 C281.13,83.62 282.77,81.02 284.50,78.50 C286.23,75.98 288.08,73.77 289.80,70.60 C291.52,67.43 293.15,63.22 294.80,59.50 C296.45,55.78 298.05,52.02 299.70,48.30 C301.35,44.58 303.05,40.70 304.70,37.20 C306.35,33.70 307.95,30.60 309.60,27.30 C311.25,24.00 312.95,20.70 314.60,17.40 C316.25,14.10 318.43,9.90 319.50,7.50 C320.57,5.10 320.75,3.75 321.00,3.00" fill="none" stroke="#4444aa" stroke-width="1.60" stroke-linejoin="round" stroke-linecap="butt" stroke-dasharray="1.8 2.8" clip-path="url(#c1top)"/>
<path d="M201.00,110.40 C202.27,110.32 204.68,110.18 208.60,109.90 C212.52,109.62 218.90,109.28 224.50,108.70 C230.10,108.12 236.28,107.28 242.20,106.40 C248.12,105.52 254.38,104.50 260.00,103.40 C265.62,102.30 271.35,101.27 275.90,99.80 C280.45,98.33 282.92,97.00 287.30,94.60 C291.68,92.20 297.25,88.17 302.20,85.40 C307.15,82.63 312.47,80.05 317.00,78.00 C321.53,75.95 326.23,74.17 329.40,73.10 C332.57,72.03 333.60,72.02 336.00,71.60 C338.40,71.18 342.50,70.77 343.80,70.60" fill="none" stroke="#151515" stroke-width="1.40" stroke-linejoin="round" stroke-linecap="butt" stroke-dasharray="5.8 2 1.3 2" clip-path="url(#c1top)"/>
<path d="M201.00,169.10 C202.02,169.42 204.87,170.40 207.10,171.00 C209.33,171.60 211.97,172.82 214.40,172.70 C216.83,172.58 219.28,171.72 221.70,170.30 C224.12,168.88 226.68,166.33 228.90,164.20 C231.12,162.07 232.97,159.12 235.00,157.50 C237.03,155.88 239.08,154.67 241.10,154.50 C243.12,154.33 245.08,156.00 247.10,156.50 C249.12,157.00 251.18,157.75 253.20,157.50 C255.22,157.25 257.18,156.38 259.20,155.00 C261.22,153.62 263.33,150.67 265.30,149.20 C267.27,147.73 269.07,147.10 271.00,146.20 C272.93,145.30 274.92,143.95 276.90,143.80 C278.88,143.65 281.17,145.20 282.90,145.30 C284.63,145.40 285.82,145.53 287.30,144.40 C288.78,143.27 290.07,139.83 291.80,138.50 C293.53,137.17 295.22,137.00 297.70,136.40 C300.18,135.80 303.72,135.40 306.70,134.90 C309.68,134.40 312.88,133.80 315.60,133.40 C318.32,133.00 320.77,132.50 323.00,132.50 C325.23,132.50 327.02,132.50 329.00,133.40 C330.98,134.30 333.17,135.92 334.90,137.90 C336.63,139.88 337.90,142.23 339.40,145.30 C340.90,148.37 343.15,154.47 343.90,156.30" fill="none" stroke="#cc3048" stroke-width="1.40" stroke-linejoin="round" stroke-linecap="butt" clip-path="url(#c1mid)"/>
<path d="M201.00,191.40 C201.62,192.05 202.87,194.08 204.70,195.30 C206.53,196.52 209.58,198.42 212.00,198.70 C214.42,198.98 216.78,198.30 219.20,197.00 C221.62,195.70 224.07,193.05 226.50,190.90 C228.93,188.75 231.58,185.63 233.80,184.10 C236.02,182.57 237.78,181.58 239.80,181.70 C241.82,181.82 243.67,183.47 245.90,184.80 C248.13,186.13 251.18,188.77 253.20,189.70 C255.22,190.63 255.98,190.93 258.00,190.40 C260.02,189.87 262.65,187.92 265.30,186.50 C267.95,185.08 271.47,181.97 273.90,181.90 C276.33,181.83 277.92,184.62 279.90,186.10 C281.88,187.58 284.32,190.32 285.80,190.80 C287.28,191.28 287.55,190.13 288.80,189.00 C290.05,187.87 291.32,184.33 293.30,184.00 C295.28,183.67 297.98,186.50 300.70,187.00 C303.42,187.50 306.62,187.35 309.60,187.00 C312.58,186.65 314.87,185.65 318.60,184.90 C322.33,184.15 328.53,182.75 332.00,182.50 C335.47,182.25 337.42,182.90 339.40,183.40 C341.38,183.90 343.15,185.15 343.90,185.50" fill="none" stroke="#151515" stroke-width="1.40" stroke-linejoin="round" stroke-linecap="butt" stroke-dasharray="5.8 2 1.3 2" clip-path="url(#c1mid)"/>
<path d="M201.00,221.90 C204.17,221.83 212.92,221.82 220.00,221.50 C227.08,221.18 236.35,221.05 243.50,220.00 C250.65,218.95 256.33,216.98 262.90,215.20 C269.47,213.42 276.60,211.03 282.90,209.30 C289.20,207.57 295.75,206.18 300.70,204.80 C305.65,203.42 308.88,201.83 312.60,201.00 C316.32,200.17 319.52,199.80 323.00,199.80 C326.48,199.80 330.02,200.32 333.50,201.00 C336.98,201.68 342.17,203.42 343.90,203.90" fill="none" stroke="#78b260" stroke-width="1.20" stroke-linejoin="round" stroke-linecap="butt" stroke-dasharray="1 1" clip-path="url(#c1mid)"/>
<path d="M201.00,170.80 C202.02,171.10 204.87,172.03 207.10,172.60 C209.33,173.17 211.97,174.33 214.40,174.20 C216.83,174.07 219.28,173.25 221.70,171.80 C224.12,170.35 226.68,167.67 228.90,165.50 C231.12,163.33 232.97,160.42 235.00,158.80 C237.03,157.18 239.08,155.97 241.10,155.80 C243.12,155.63 245.08,157.30 247.10,157.80 C249.12,158.30 251.18,159.02 253.20,158.80 C255.22,158.58 257.18,157.62 259.20,156.50 C261.22,155.38 263.33,153.35 265.30,152.10 C267.27,150.85 269.07,149.78 271.00,149.00 C272.93,148.22 274.92,147.60 276.90,147.40 C278.88,147.20 281.17,147.80 282.90,147.80 C284.63,147.80 285.82,148.57 287.30,147.40 C288.78,146.23 290.07,142.45 291.80,140.80 C293.53,139.15 295.22,138.38 297.70,137.50 C300.18,136.62 303.72,136.25 306.70,135.50 C309.68,134.75 312.88,133.60 315.60,133.00 C318.32,132.40 320.77,131.97 323.00,131.90 C325.23,131.83 327.02,132.00 329.00,132.60 C330.98,133.20 333.17,134.18 334.90,135.50 C336.63,136.82 337.90,138.37 339.40,140.50 C340.90,142.63 343.15,147.00 343.90,148.30" fill="none" stroke="#4444aa" stroke-width="1.50" stroke-linejoin="round" stroke-linecap="butt" stroke-dasharray="2 2" clip-path="url(#c1mid)"/>
<text x="257.18" y="176.50" font-size="8.60" fill="#151515" stroke="#151515" stroke-width="0.08" font-family='"Liberation Serif", "Times New Roman", serif' font-weight="normal" font-style="italic" dominant-baseline="central" style="white-space:pre">T</text>
<text x="261.97" y="178.30" font-size="5.33" fill="#151515" stroke="#151515" stroke-width="0.08" font-family='"Liberation Serif", "Times New Roman", serif' font-weight="normal" font-style="italic" dominant-baseline="central" style="white-space:pre">m</text>
<text x="287.60" y="214.50" font-size="8.60" fill="#78b260" stroke="#78b260" stroke-width="0.08" font-family='"Liberation Serif", "Times New Roman", serif' font-weight="normal" font-style="italic" dominant-baseline="central" style="white-space:pre">T</text>
<text x="292.38" y="216.30" font-size="5.33" fill="#78b260" stroke="#78b260" stroke-width="0.08" font-family='"Liberation Serif", "Times New Roman", serif' font-weight="normal" font-style="italic" dominant-baseline="central" style="white-space:pre">ice</text>
<text x="285.71" y="133.00" font-size="8.60" fill="#e07050" stroke="#e07050" stroke-width="0.08" font-family='"Liberation Serif", "Times New Roman", serif' font-weight="normal" font-style="italic" dominant-baseline="central" style="white-space:pre" opacity="0.80">T</text>
<text x="288.96" y="131.54" font-size="6.88" text-anchor="middle" fill="#e07050" stroke="#e07050" stroke-width="0.35" font-family='"Liberation Serif", "Times New Roman", serif' dominant-baseline="central" opacity="0.80">&#732;</text>
<text x="294.11" y="145.00" font-size="8.60" fill="#4444aa" stroke="#4444aa" stroke-width="0.08" font-family='"Liberation Serif", "Times New Roman", serif' font-weight="normal" font-style="italic" dominant-baseline="central" style="white-space:pre" opacity="0.80">T</text>
<text x="297.36" y="143.54" font-size="6.88" text-anchor="middle" fill="#4444aa" stroke="#4444aa" stroke-width="0.35" font-family='"Liberation Serif", "Times New Roman", serif' dominant-baseline="central" opacity="0.80">&#732;</text>
<path d="M201.00,302.10 C201.55,301.07 202.97,297.92 204.30,295.90 C205.63,293.88 207.43,291.57 209.00,290.00 C210.57,288.43 211.88,287.23 213.70,286.50 C215.52,285.77 217.82,284.82 219.90,285.60 C221.98,286.38 223.87,289.33 226.20,291.20 C228.53,293.07 231.32,296.28 233.90,296.80 C236.48,297.32 238.83,295.50 241.70,294.30 C244.57,293.10 248.23,290.38 251.10,289.60 C253.97,288.82 256.58,289.12 258.90,289.60 C261.22,290.08 262.95,291.98 265.00,292.50 C267.05,293.02 269.12,293.43 271.20,292.70 C273.28,291.97 275.42,289.65 277.50,288.10 C279.58,286.55 281.88,284.45 283.70,283.40 C285.52,282.35 286.85,281.43 288.40,281.80 C289.95,282.17 291.18,285.33 293.00,285.60 C294.82,285.87 296.95,284.28 299.30,283.40 C301.65,282.52 304.77,280.97 307.10,280.30 C309.43,279.63 311.23,279.15 313.30,279.40 C315.37,279.65 317.17,280.35 319.50,281.80 C321.83,283.25 324.70,286.02 327.30,288.10 C329.90,290.18 332.25,292.65 335.10,294.30 C337.95,295.95 342.85,297.38 344.40,298.00" fill="none" stroke="#3a7c3c" stroke-width="1.40" stroke-linejoin="round" stroke-linecap="butt" clip-path="url(#c1bot)"/>
<path d="M201.00,268.80 C202.60,269.67 207.97,272.87 210.60,274.00 C213.23,275.13 213.68,274.82 216.80,275.60 C219.92,276.38 226.10,277.72 229.30,278.70 C232.50,279.68 233.93,280.45 236.00,281.50 C238.07,282.55 239.18,282.87 241.70,285.00 C244.22,287.13 247.98,291.97 251.10,294.30 C254.22,296.63 258.08,297.70 260.40,299.00 C262.72,300.30 262.68,300.80 265.00,302.10 C267.32,303.40 271.45,304.88 274.30,306.80 C277.15,308.72 279.50,311.53 282.10,313.60 C284.70,315.67 287.03,317.63 289.90,319.20 C292.77,320.77 296.18,321.70 299.30,323.00 C302.42,324.30 306.02,326.07 308.60,327.00 C311.18,327.93 312.20,328.60 314.80,328.60 C317.40,328.60 321.08,327.73 324.20,327.00 C327.32,326.27 330.13,324.67 333.50,324.20 C336.87,323.73 342.58,324.20 344.40,324.20" fill="none" stroke="#2e2e9c" stroke-width="1.40" stroke-linejoin="round" stroke-linecap="butt" clip-path="url(#c1bot)"/>
<path d="M201.00,337.90 C201.55,337.38 202.18,335.93 204.30,334.80 C206.42,333.67 210.83,331.52 213.70,331.10 C216.57,330.68 218.90,331.17 221.50,332.30 C224.10,333.43 226.70,336.33 229.30,337.90 C231.90,339.47 234.52,341.70 237.10,341.70 C239.68,341.70 242.22,339.32 244.80,337.90 C247.38,336.48 250.00,334.33 252.60,333.20 C255.20,332.07 258.33,331.38 260.40,331.10 C262.47,330.82 263.70,331.15 265.00,331.50 C266.30,331.85 266.90,332.92 268.20,333.20 C269.50,333.48 271.25,333.97 272.80,333.20 C274.35,332.43 275.95,331.18 277.50,328.60 C279.05,326.02 280.55,320.57 282.10,317.70 C283.65,314.83 285.50,311.77 286.80,311.40 C288.10,311.03 288.87,314.08 289.90,315.50 C290.93,316.92 291.70,320.22 293.00,319.90 C294.30,319.58 295.88,315.53 297.70,313.60 C299.52,311.67 301.57,309.43 303.90,308.30 C306.23,307.17 309.10,306.80 311.70,306.80 C314.30,306.80 316.90,307.00 319.50,308.30 C322.10,309.60 324.70,311.73 327.30,314.60 C329.90,317.47 332.25,322.55 335.10,325.50 C337.95,328.45 342.85,331.17 344.40,332.30" fill="none" stroke="#cc3048" stroke-width="1.40" stroke-linejoin="round" stroke-linecap="butt" clip-path="url(#c1bot)"/>
<path d="M201.00,299.90 C201.55,298.97 202.18,296.02 204.30,294.30 C206.42,292.58 210.83,290.38 213.70,289.60 C216.57,288.82 218.90,289.08 221.50,289.60 C224.10,290.12 226.45,291.92 229.30,292.70 C232.15,293.48 235.48,294.82 238.60,294.30 C241.72,293.78 244.88,291.68 248.00,289.60 C251.12,287.52 254.72,283.35 257.30,281.80 C259.88,280.25 261.72,280.43 263.50,280.30 C265.28,280.17 266.45,281.00 268.00,281.00 C269.55,281.00 271.22,281.72 272.80,280.30 C274.38,278.88 275.95,276.65 277.50,272.50 C279.05,268.35 280.55,260.60 282.10,255.40 C283.65,250.20 285.50,243.90 286.80,241.30 C288.10,238.70 288.75,239.02 289.90,239.80 C291.05,240.58 292.65,245.75 293.70,246.00 C294.75,246.25 295.27,243.02 296.20,241.30 C297.13,239.58 293.60,236.63 299.30,235.70 C305.00,234.77 324.43,234.23 330.40,235.70 C336.37,237.17 333.53,242.10 335.10,244.50 C336.67,246.90 338.25,248.97 339.80,250.10 C341.35,251.23 343.63,251.10 344.40,251.30" fill="none" stroke="#151515" stroke-width="1.40" stroke-linejoin="round" stroke-linecap="butt" clip-path="url(#c1bot)"/>
<text x="209.38" y="271.00" font-size="8.60" fill="#4a4ab8" stroke="#4a4ab8" stroke-width="0.08" font-family='"Liberation Serif", "Times New Roman", serif' font-weight="normal" font-style="normal" dominant-baseline="central" style="white-space:pre">ln(</text>
<text x="218.93" y="271.00" font-size="8.60" fill="#4a4ab8" stroke="#4a4ab8" stroke-width="0.08" font-family='"Liberation Serif", "Times New Roman", serif' font-weight="normal" font-style="italic" dominant-baseline="central" style="white-space:pre">T</text>
<text x="223.72" y="272.80" font-size="5.33" fill="#4a4ab8" stroke="#4a4ab8" stroke-width="0.08" font-family='"Liberation Serif", "Times New Roman", serif' font-weight="normal" font-style="italic" dominant-baseline="central" style="white-space:pre">m</text>
<text x="227.57" y="271.00" font-size="8.60" fill="#4a4ab8" stroke="#4a4ab8" stroke-width="0.08" font-family='"Liberation Serif", "Times New Roman", serif' font-weight="normal" font-style="normal" dominant-baseline="central" style="white-space:pre">/</text>
<text x="229.96" y="271.00" font-size="8.60" fill="#4a4ab8" stroke="#4a4ab8" stroke-width="0.08" font-family='"Liberation Serif", "Times New Roman", serif' font-weight="normal" font-style="italic" dominant-baseline="central" style="white-space:pre">T</text>
<text x="234.74" y="272.80" font-size="5.33" fill="#4a4ab8" stroke="#4a4ab8" stroke-width="0.08" font-family='"Liberation Serif", "Times New Roman", serif' font-weight="normal" font-style="italic" dominant-baseline="central" style="white-space:pre">ice</text>
<text x="240.95" y="271.00" font-size="8.60" fill="#4a4ab8" stroke="#4a4ab8" stroke-width="0.08" font-family='"Liberation Serif", "Times New Roman", serif' font-weight="normal" font-style="normal" dominant-baseline="central" style="white-space:pre">)</text>
<text x="282.25" y="257.50" font-size="9.00" fill="#151515" stroke="#151515" stroke-width="0.08" font-family='"Liberation Serif", "Times New Roman", serif' font-weight="normal" font-style="italic" dominant-baseline="central" style="white-space:pre">A</text>
<text x="299.75" y="289.00" font-size="8.60" fill="#6f986f" stroke="#6f986f" stroke-width="0.08" font-family='"Liberation Serif", "Times New Roman", serif' font-weight="normal" font-style="italic" dominant-baseline="central" style="white-space:pre">&#961;</text>
<text x="303.88" y="290.80" font-size="5.33" fill="#6f986f" stroke="#6f986f" stroke-width="0.08" font-family='"Liberation Serif", "Times New Roman", serif' font-weight="normal" font-style="italic" dominant-baseline="central" style="white-space:pre">m</text>
<text x="307.73" y="289.00" font-size="8.60" fill="#6f986f" stroke="#6f986f" stroke-width="0.08" font-family='"Liberation Serif", "Times New Roman", serif' font-weight="normal" font-style="italic" dominant-baseline="central" style="white-space:pre">/</text>
<text x="310.12" y="289.00" font-size="8.60" fill="#6f986f" stroke="#6f986f" stroke-width="0.08" font-family='"Liberation Serif", "Times New Roman", serif' font-weight="normal" font-style="italic" dominant-baseline="central" style="white-space:pre">&#961;</text>
<text x="312.70" y="289.86" font-size="5.16" text-anchor="middle" fill="#6f986f" stroke="#6f986f" stroke-width="0.35" font-family='"Liberation Serif", "Times New Roman", serif' dominant-baseline="central">&#175;</text>
<text x="252.39" y="325.80" font-size="8.60" fill="#d85060" stroke="#d85060" stroke-width="0.08" font-family='"Liberation Serif", "Times New Roman", serif' font-weight="normal" font-style="italic" dominant-baseline="central" style="white-space:pre">D</text>
<path d="M376.00,113.50 C377.90,113.55 383.27,114.00 387.40,113.80 C391.53,113.60 396.32,113.00 400.80,112.30 C405.28,111.60 410.13,110.15 414.30,109.60 C418.47,109.05 422.27,109.15 425.80,109.00 C429.33,108.85 432.60,109.12 435.50,108.70 C438.40,108.28 440.78,107.12 443.20,106.50 C445.62,105.88 447.93,105.48 450.00,105.00 C452.07,104.52 453.85,104.17 455.60,103.60 C457.35,103.03 458.68,102.43 460.50,101.60 C462.32,100.77 464.92,99.53 466.50,98.60 C468.08,97.67 468.97,96.98 470.00,96.00 C471.03,95.02 471.87,93.78 472.70,92.70 C473.53,91.62 474.30,90.70 475.00,89.50 C475.70,88.30 476.32,86.92 476.90,85.50 C477.48,84.08 477.98,82.73 478.50,81.00 C479.02,79.27 479.42,78.48 480.00,75.10 C480.58,71.72 481.32,65.17 482.00,60.70 C482.68,56.23 483.35,54.25 484.10,48.30 C484.85,42.35 485.80,31.05 486.50,25.00 C487.20,18.95 487.80,14.72 488.30,12.00 C488.80,9.28 489.30,9.25 489.50,8.70" fill="none" stroke="#cc3048" stroke-width="1.40" stroke-linejoin="round" stroke-linecap="butt" clip-path="url(#c2top)"/>
<path d="M376.00,113.80 C380.00,113.65 391.70,113.37 400.00,112.90 C408.30,112.43 418.60,111.55 425.80,111.00 C433.00,110.45 439.17,110.07 443.20,109.60 C447.23,109.13 447.15,108.95 450.00,108.20 C452.85,107.45 457.55,106.13 460.30,105.10 C463.05,104.07 464.77,103.55 466.50,102.00 C468.23,100.45 469.48,98.22 470.70,95.80 C471.92,93.38 472.95,90.25 473.80,87.50 C474.65,84.75 475.12,82.73 475.80,79.30 C476.48,75.87 477.20,71.03 477.90,66.90 C478.60,62.77 479.32,58.30 480.00,54.50 C480.68,50.70 481.40,48.18 482.00,44.10 C482.60,40.02 483.07,35.48 483.60,30.00 C484.13,24.52 484.80,15.53 485.20,11.20 C485.60,6.87 485.87,5.20 486.00,4.00" fill="none" stroke="#4444aa" stroke-width="1.60" stroke-linejoin="round" stroke-linecap="butt" stroke-dasharray="1.8 2.8" clip-path="url(#c2top)"/>
<path d="M376.00,113.80 C380.00,113.72 392.67,113.50 400.00,113.30 C407.33,113.10 413.33,112.85 420.00,112.60 C426.67,112.35 435.00,112.02 440.00,111.80 C445.00,111.58 446.62,111.73 450.00,111.30 C453.38,110.87 457.20,110.13 460.30,109.20 C463.40,108.27 466.18,107.07 468.60,105.70 C471.02,104.33 472.90,102.93 474.80,101.00 C476.70,99.07 478.45,96.68 480.00,94.10 C481.55,91.52 482.90,88.67 484.10,85.50 C485.30,82.33 486.17,79.23 487.20,75.10 C488.23,70.97 489.43,65.17 490.30,60.70 C491.17,56.23 491.88,51.75 492.40,48.30 C492.92,44.85 492.88,43.88 493.40,40.00 C493.92,36.12 494.90,29.90 495.50,25.00 C496.10,20.10 496.65,14.10 497.00,10.60 C497.35,7.10 497.50,5.10 497.60,4.00" fill="none" stroke="#151515" stroke-width="1.40" stroke-linejoin="round" stroke-linecap="butt" stroke-dasharray="5.8 2 1.3 2" clip-path="url(#c2top)"/>
<line x1="488.00" y1="8.90" x2="517.50" y2="8.90" stroke="#cc3048" stroke-width="1.40"/>
<path d="M376.00,208.80 C377.25,208.33 380.63,206.95 383.50,206.00 C386.37,205.05 390.32,203.27 393.20,203.10 C396.08,202.93 397.92,204.37 400.80,205.00 C403.68,205.63 406.97,206.73 410.50,206.90 C414.03,207.07 418.80,206.48 422.00,206.00 C425.20,205.52 426.82,204.65 429.70,204.00 C432.58,203.35 435.45,202.63 439.30,202.10 C443.15,201.57 448.95,201.43 452.80,200.80 C456.65,200.17 459.52,199.37 462.40,198.30 C465.28,197.23 467.77,195.42 470.10,194.40 C472.43,193.38 474.35,193.08 476.40,192.20 C478.45,191.32 480.48,189.77 482.40,189.10 C484.32,188.43 486.13,191.13 487.90,188.20 C489.67,185.27 491.38,176.80 493.00,171.50 C494.62,166.20 496.08,160.33 497.60,156.40 C499.12,152.47 500.58,148.42 502.10,147.90 C503.62,147.38 504.93,150.37 506.70,153.30 C508.47,156.23 510.93,161.97 512.70,165.50 C514.47,169.03 516.53,173.00 517.30,174.50" fill="none" stroke="#cc3048" stroke-width="1.40" stroke-linejoin="round" stroke-linecap="butt" clip-path="url(#c2mid)"/>
<path d="M376.00,215.00 C377.25,214.62 380.63,213.73 383.50,212.70 C386.37,211.67 390.32,208.97 393.20,208.80 C396.08,208.63 397.92,210.67 400.80,211.70 C403.68,212.73 407.28,214.35 410.50,215.00 C413.72,215.65 416.90,215.67 420.10,215.60 C423.30,215.53 426.50,215.15 429.70,214.60 C432.90,214.05 436.10,212.45 439.30,212.30 C442.50,212.15 445.70,213.38 448.90,213.70 C452.10,214.02 455.28,214.37 458.50,214.20 C461.72,214.03 465.62,213.23 468.20,212.70 C470.78,212.17 472.13,211.30 474.00,211.00 C475.87,210.70 477.48,210.67 479.40,210.90 C481.32,211.13 483.98,211.63 485.50,212.40 C487.02,213.17 488.00,214.98 488.50,215.50" fill="none" stroke="#151515" stroke-width="1.40" stroke-linejoin="round" stroke-linecap="butt" stroke-dasharray="5.8 2 1.3 2" clip-path="url(#c2mid)"/>
<path d="M376.00,224.60 C383.33,224.58 409.33,224.57 420.00,224.50 C430.67,224.43 434.17,224.42 440.00,224.20 C445.83,223.98 450.30,223.68 455.00,223.20 C459.70,222.72 464.63,221.75 468.20,221.30 C471.77,220.85 473.77,221.12 476.40,220.50 C479.03,219.88 481.98,218.70 484.00,217.60 C486.02,216.50 487.75,214.52 488.50,213.90" fill="none" stroke="#78b260" stroke-width="1.20" stroke-linejoin="round" stroke-linecap="butt" stroke-dasharray="1 1" clip-path="url(#c2mid)"/>
<path d="M376.00,208.30 C377.25,207.83 380.63,206.45 383.50,205.50 C386.37,204.55 390.32,202.77 393.20,202.60 C396.08,202.43 397.92,203.87 400.80,204.50 C403.68,205.13 406.97,206.23 410.50,206.40 C414.03,206.57 418.80,205.98 422.00,205.50 C425.20,205.02 426.82,204.15 429.70,203.50 C432.58,202.85 435.45,202.13 439.30,201.60 C443.15,201.07 448.95,200.93 452.80,200.30 C456.65,199.67 459.52,198.87 462.40,197.80 C465.28,196.73 467.77,194.92 470.10,193.90 C472.43,192.88 474.35,192.62 476.40,191.70 C478.45,190.78 480.38,189.48 482.40,188.40 C484.42,187.32 486.73,189.02 488.50,185.20 C490.27,181.38 491.48,171.82 493.00,165.50 C494.52,159.18 496.08,152.62 497.60,147.30 C499.12,141.98 500.83,136.38 502.10,133.60 C503.37,130.82 503.68,130.08 505.20,130.60 C506.72,131.12 509.18,134.43 511.20,136.70 C513.22,138.97 516.28,142.95 517.30,144.20" fill="none" stroke="#4444aa" stroke-width="1.50" stroke-linejoin="round" stroke-linecap="butt" stroke-dasharray="2 2" clip-path="url(#c2mid)"/>
<text x="455.18" y="207.90" font-size="8.60" fill="#151515" stroke="#151515" stroke-width="0.08" font-family='"Liberation Serif", "Times New Roman", serif' font-weight="normal" font-style="italic" dominant-baseline="central" style="white-space:pre">T</text>
<text x="459.97" y="209.70" font-size="5.33" fill="#151515" stroke="#151515" stroke-width="0.08" font-family='"Liberation Serif", "Times New Roman", serif' font-weight="normal" font-style="italic" dominant-baseline="central" style="white-space:pre">m</text>
<text x="488.50" y="218.50" font-size="8.60" fill="#78b260" stroke="#78b260" stroke-width="0.08" font-family='"Liberation Serif", "Times New Roman", serif' font-weight="normal" font-style="italic" dominant-baseline="central" style="white-space:pre">T</text>
<text x="493.28" y="220.30" font-size="5.33" fill="#78b260" stroke="#78b260" stroke-width="0.08" font-family='"Liberation Serif", "Times New Roman", serif' font-weight="normal" font-style="italic" dominant-baseline="central" style="white-space:pre">ice</text>
<text x="490.61" y="145.80" font-size="8.60" fill="#4444aa" stroke="#4444aa" stroke-width="0.08" font-family='"Liberation Serif", "Times New Roman", serif' font-weight="normal" font-style="italic" dominant-baseline="central" style="white-space:pre" opacity="0.80">T</text>
<text x="493.86" y="144.34" font-size="6.88" text-anchor="middle" fill="#4444aa" stroke="#4444aa" stroke-width="0.35" font-family='"Liberation Serif", "Times New Roman", serif' dominant-baseline="central" opacity="0.80">&#732;</text>
<text x="496.61" y="173.00" font-size="8.60" fill="#e07050" stroke="#e07050" stroke-width="0.08" font-family='"Liberation Serif", "Times New Roman", serif' font-weight="normal" font-style="italic" dominant-baseline="central" style="white-space:pre" opacity="0.80">T</text>
<text x="499.86" y="171.54" font-size="6.88" text-anchor="middle" fill="#e07050" stroke="#e07050" stroke-width="0.35" font-family='"Liberation Serif", "Times New Roman", serif' dominant-baseline="central" opacity="0.80">&#732;</text>
<path d="M376.00,297.80 C376.78,298.28 378.48,299.83 380.70,300.70 C382.92,301.57 386.42,303.00 389.30,303.00 C392.18,303.00 395.35,302.28 398.00,300.70 C400.65,299.12 402.78,295.33 405.20,293.50 C407.62,291.67 409.85,290.67 412.50,289.70 C415.15,288.73 418.22,288.37 421.10,287.70 C423.98,287.03 427.63,285.55 429.80,285.70 C431.97,285.85 432.17,287.93 434.10,288.60 C436.03,289.27 438.87,290.05 441.40,289.70 C443.93,289.35 446.42,287.82 449.30,286.50 C452.18,285.18 455.83,282.98 458.70,281.80 C461.57,280.62 464.17,280.02 466.50,279.40 C468.83,278.78 470.88,278.73 472.70,278.10 C474.52,277.47 476.10,277.83 477.40,275.60 C478.70,273.37 479.57,268.07 480.50,264.70 C481.43,261.33 482.22,257.12 483.00,255.40 C483.78,253.68 484.58,253.63 485.20,254.40 C485.82,255.17 486.18,256.47 486.70,260.00 C487.22,263.53 488.03,273.00 488.30,275.60" fill="none" stroke="#3a7c3c" stroke-width="1.40" stroke-linejoin="round" stroke-linecap="butt" clip-path="url(#c2bot)"/>
<path d="M376.00,257.30 C376.78,257.30 378.95,257.38 380.70,257.30 C382.45,257.22 384.58,257.03 386.50,256.80 C388.42,256.57 390.28,255.72 392.20,255.90 C394.12,256.08 395.58,256.70 398.00,257.90 C400.42,259.10 403.80,261.27 406.70,263.10 C409.60,264.93 412.52,267.07 415.40,268.90 C418.28,270.73 421.12,272.42 424.00,274.10 C426.88,275.78 430.03,277.52 432.70,279.00 C435.37,280.48 437.23,281.38 440.00,283.00 C442.77,284.62 446.18,286.55 449.30,288.70 C452.42,290.85 455.83,293.67 458.70,295.90 C461.57,298.13 464.17,300.28 466.50,302.10 C468.83,303.92 470.98,305.25 472.70,306.80 C474.42,308.35 475.50,309.58 476.80,311.40 C478.10,313.22 479.10,315.35 480.50,317.70 C481.90,320.05 483.90,323.43 485.20,325.50 C486.50,327.57 487.78,329.33 488.30,330.10" fill="none" stroke="#2e2e9c" stroke-width="1.40" stroke-linejoin="round" stroke-linecap="butt" clip-path="url(#c2bot)"/>
<path d="M376.00,332.90 C376.78,333.00 379.23,333.17 380.70,333.50 C382.17,333.83 383.42,334.32 384.80,334.90 C386.18,335.48 387.62,336.45 389.00,337.00 C390.38,337.55 391.85,338.23 393.10,338.20 C394.35,338.17 395.40,337.35 396.50,336.80 C397.60,336.25 398.28,335.70 399.70,334.90 C401.12,334.10 402.87,333.32 405.00,332.00 C407.13,330.68 409.82,328.12 412.50,327.00 C415.18,325.88 418.22,325.58 421.10,325.30 C423.98,325.02 427.15,325.07 429.80,325.30 C432.45,325.53 434.58,326.85 437.00,326.70 C439.42,326.55 442.25,325.13 444.30,324.40 C446.35,323.67 446.90,323.27 449.30,322.30 C451.70,321.33 456.10,319.73 458.70,318.60 C461.30,317.47 463.08,316.70 464.90,315.50 C466.72,314.30 468.03,313.27 469.60,311.40 C471.17,309.53 472.75,306.88 474.30,304.30 C475.85,301.72 477.45,298.70 478.90,295.90 C480.35,293.10 481.95,289.43 483.00,287.50 C484.05,285.57 484.58,284.62 485.20,284.30 C485.82,283.98 486.18,284.20 486.70,285.60 C487.22,287.00 488.03,291.52 488.30,292.70" fill="none" stroke="#cc3048" stroke-width="1.40" stroke-linejoin="round" stroke-linecap="butt" clip-path="url(#c2bot)"/>
<path d="M376.00,295.50 C377.27,295.65 380.90,296.12 383.60,296.40 C386.30,296.68 389.32,297.45 392.20,297.20 C395.08,296.95 398.00,295.87 400.90,294.90 C403.80,293.93 406.72,292.60 409.60,291.40 C412.48,290.20 415.32,288.47 418.20,287.70 C421.08,286.93 424.25,286.80 426.90,286.80 C429.55,286.80 431.92,287.48 434.10,287.70 C436.28,287.92 437.98,288.30 440.00,288.10 C442.02,287.90 443.87,288.07 446.20,286.50 C448.53,284.93 451.40,281.30 454.00,278.70 C456.60,276.10 459.47,273.48 461.80,270.90 C464.13,268.32 466.18,266.05 468.00,263.20 C469.82,260.35 471.40,256.92 472.70,253.80 C474.00,250.68 474.92,247.10 475.80,244.50 C476.68,241.90 477.32,239.70 478.00,238.20 C478.68,236.70 478.18,235.95 479.90,235.50 C481.62,235.05 486.90,235.50 488.30,235.50" fill="none" stroke="#151515" stroke-width="1.40" stroke-linejoin="round" stroke-linecap="butt" clip-path="url(#c2bot)"/>
<text x="391.28" y="252.00" font-size="8.60" fill="#4a4ab8" stroke="#4a4ab8" stroke-width="0.08" font-family='"Liberation Serif", "Times New Roman", serif' font-weight="normal" font-style="normal" dominant-baseline="central" style="white-space:pre">ln(</text>
<text x="400.83" y="252.00" font-size="8.60" fill="#4a4ab8" stroke="#4a4ab8" stroke-width="0.08" font-family='"Liberation Serif", "Times New Roman", serif' font-weight="normal" font-style="italic" dominant-baseline="central" style="white-space:pre">T</text>
<text x="405.62" y="253.80" font-size="5.33" fill="#4a4ab8" stroke="#4a4ab8" stroke-width="0.08" font-family='"Liberation Serif", "Times New Roman", serif' font-weight="normal" font-style="italic" dominant-baseline="central" style="white-space:pre">m</text>
<text x="409.47" y="252.00" font-size="8.60" fill="#4a4ab8" stroke="#4a4ab8" stroke-width="0.08" font-family='"Liberation Serif", "Times New Roman", serif' font-weight="normal" font-style="normal" dominant-baseline="central" style="white-space:pre">/</text>
<text x="411.86" y="252.00" font-size="8.60" fill="#4a4ab8" stroke="#4a4ab8" stroke-width="0.08" font-family='"Liberation Serif", "Times New Roman", serif' font-weight="normal" font-style="italic" dominant-baseline="central" style="white-space:pre">T</text>
<text x="416.64" y="253.80" font-size="5.33" fill="#4a4ab8" stroke="#4a4ab8" stroke-width="0.08" font-family='"Liberation Serif", "Times New Roman", serif' font-weight="normal" font-style="italic" dominant-baseline="central" style="white-space:pre">ice</text>
<text x="422.85" y="252.00" font-size="8.60" fill="#4a4ab8" stroke="#4a4ab8" stroke-width="0.08" font-family='"Liberation Serif", "Times New Roman", serif' font-weight="normal" font-style="normal" dominant-baseline="central" style="white-space:pre">)</text>
<text x="454.55" y="265.60" font-size="9.00" fill="#151515" stroke="#151515" stroke-width="0.08" font-family='"Liberation Serif", "Times New Roman", serif' font-weight="normal" font-style="italic" dominant-baseline="central" style="white-space:pre">A</text>
<text x="391.05" y="307.90" font-size="8.60" fill="#6f986f" stroke="#6f986f" stroke-width="0.08" font-family='"Liberation Serif", "Times New Roman", serif' font-weight="normal" font-style="italic" dominant-baseline="central" style="white-space:pre">&#961;</text>
<text x="395.18" y="309.70" font-size="5.33" fill="#6f986f" stroke="#6f986f" stroke-width="0.08" font-family='"Liberation Serif", "Times New Roman", serif' font-weight="normal" font-style="italic" dominant-baseline="central" style="white-space:pre">m</text>
<text x="399.03" y="307.90" font-size="8.60" fill="#6f986f" stroke="#6f986f" stroke-width="0.08" font-family='"Liberation Serif", "Times New Roman", serif' font-weight="normal" font-style="italic" dominant-baseline="central" style="white-space:pre">/</text>
<text x="401.42" y="307.90" font-size="8.60" fill="#6f986f" stroke="#6f986f" stroke-width="0.08" font-family='"Liberation Serif", "Times New Roman", serif' font-weight="normal" font-style="italic" dominant-baseline="central" style="white-space:pre">&#961;</text>
<text x="404.00" y="308.76" font-size="5.16" text-anchor="middle" fill="#6f986f" stroke="#6f986f" stroke-width="0.35" font-family='"Liberation Serif", "Times New Roman", serif' dominant-baseline="central">&#175;</text>
<text x="422.89" y="318.20" font-size="8.60" fill="#d85060" stroke="#d85060" stroke-width="0.08" font-family='"Liberation Serif", "Times New Roman", serif' font-weight="normal" font-style="italic" dominant-baseline="central" style="white-space:pre">D</text>
</svg>
</body></html>
